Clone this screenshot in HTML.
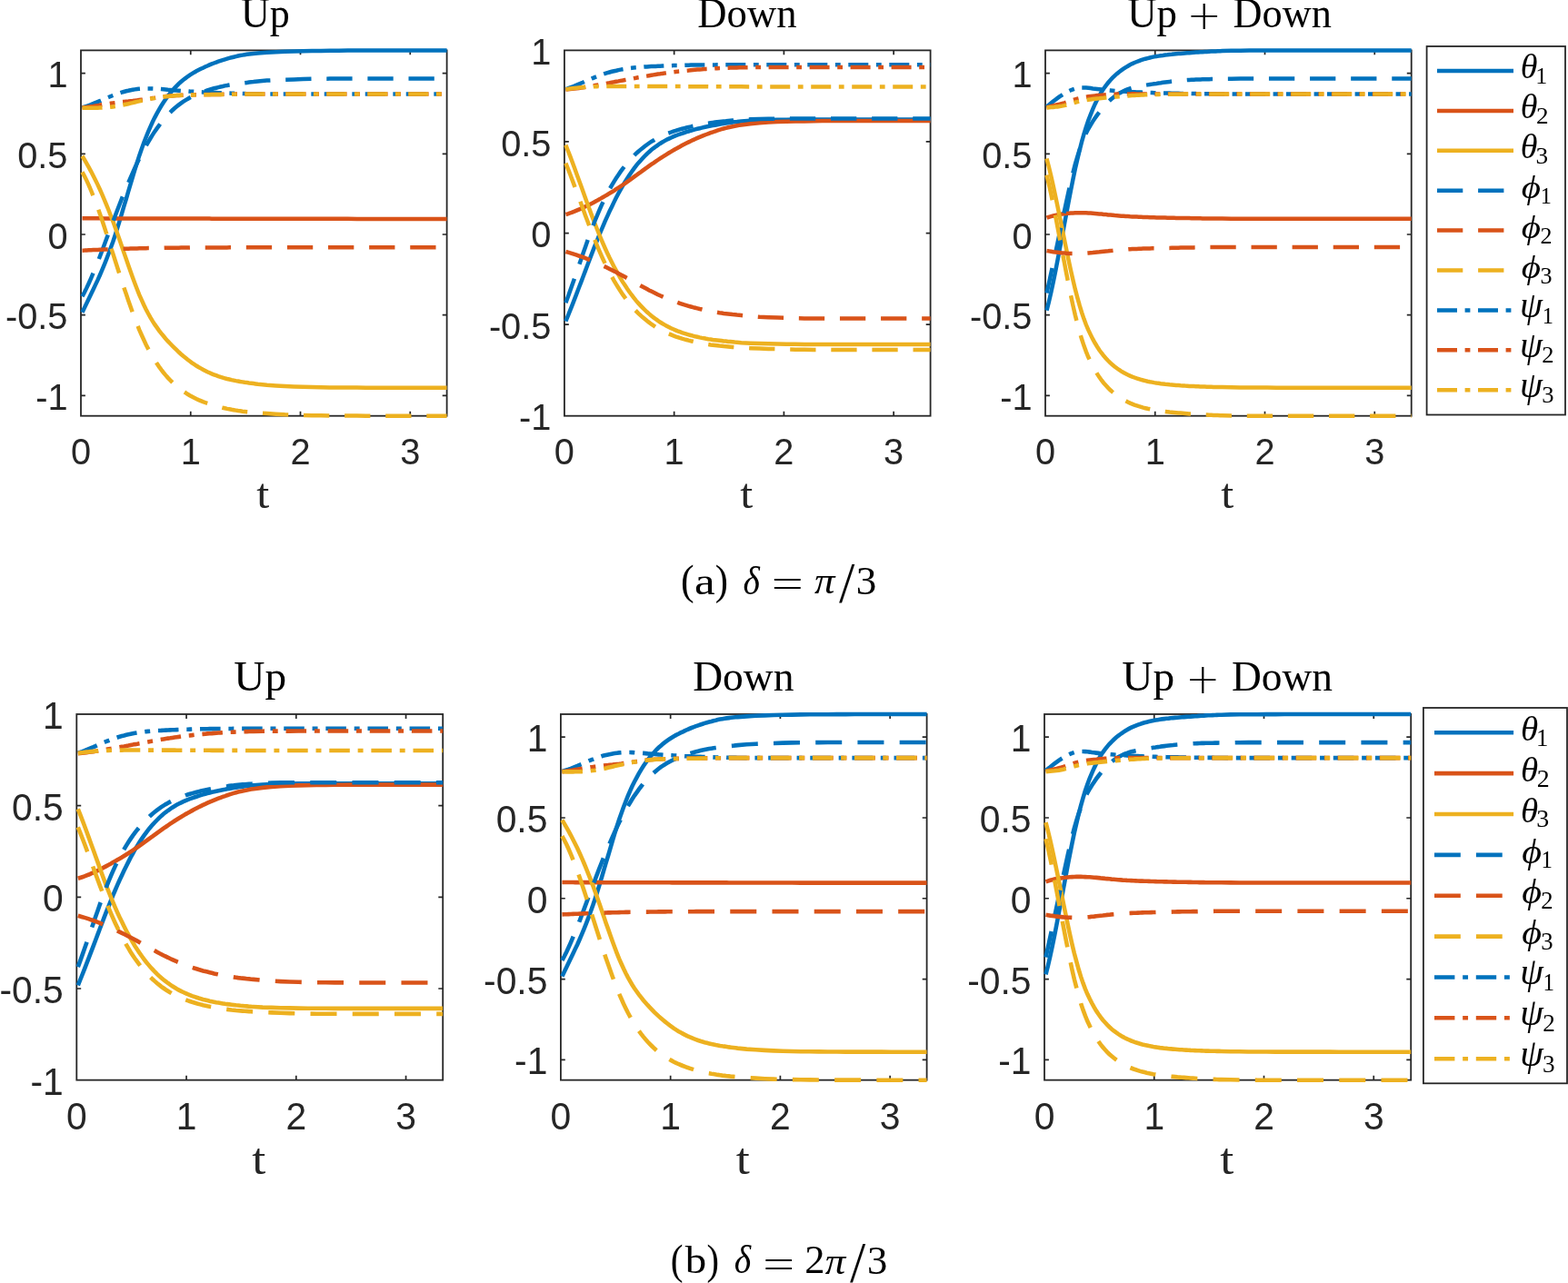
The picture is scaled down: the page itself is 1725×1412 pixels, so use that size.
<!DOCTYPE html>
<html lang="en"><head><meta charset="utf-8"><title>Figure: Up / Down / Up + Down dynamics</title>
<style>html,body{margin:0;padding:0;background:#fff}body{width:1725px;height:1412px;overflow:hidden}svg{display:block}</style></head>
<body>
<svg width="1725" height="1412" viewBox="0 0 1725 1412">
<rect width="1725" height="1412" fill="#fff"/>
<g id="a1">
<rect x="89.00" y="55.40" width="402.60" height="402.30" fill="#fff" stroke="#262626" stroke-width="1.8"/>
<path d="M209.75 457.70v-4.90 M209.75 55.40v4.90 M330.50 457.70v-4.90 M330.50 55.40v4.90 M451.25 457.70v-4.90 M451.25 55.40v4.90 M89.00 435.40h4.90 M491.60 435.40h-4.90 M89.00 346.70h4.90 M491.60 346.70h-4.90 M89.00 258.00h4.90 M491.60 258.00h-4.90 M89.00 169.30h4.90 M491.60 169.30h-4.90 M89.00 80.60h4.90 M491.60 80.60h-4.90" stroke="#262626" stroke-width="1.7" fill="none"/>
<clipPath id="cA1"><rect x="88.00" y="51.40" width="404.35" height="410.30"/></clipPath>
<g clip-path="url(#cA1)">
<path d="M90.5 343.7L92.9 338.7L95.3 333.8L97.7 328.8L100.1 323.8L102.5 318.8L104.9 313.6L107.4 308.4L109.8 303.0L112.2 297.4L114.6 291.6L117.0 285.6L119.4 279.3L121.8 272.8L124.3 265.9L126.7 258.7L129.1 251.1L131.5 243.3L133.9 235.3L136.3 227.2L138.8 219.0L141.2 210.7L143.6 202.6L146.0 194.5L148.4 186.5L150.8 178.8L153.2 171.4L155.7 164.3L158.1 157.6L160.5 151.3L162.9 145.4L165.3 139.8L167.7 134.5L170.1 129.6L172.6 124.9L175.0 120.6L177.4 116.5L179.8 112.7L182.2 109.2L184.6 105.8L187.1 102.7L189.5 99.8L191.9 97.1L194.3 94.6L196.7 92.2L199.1 90.0L201.5 88.0L204.0 86.1L206.4 84.3L208.8 82.7L211.2 81.2L213.6 79.7L216.0 78.3L218.4 77.1L220.9 75.8L223.3 74.7L225.7 73.5L228.1 72.5L230.5 71.4L232.9 70.4L235.3 69.5L237.8 68.6L240.2 67.7L242.6 66.9L245.0 66.1L247.4 65.4L249.8 64.6L252.3 63.9L254.7 63.3L257.1 62.7L259.5 62.1L261.9 61.5L264.3 61.0L266.7 60.6L269.2 60.2L271.6 59.8L274.0 59.5L276.4 59.2L278.8 58.9L281.2 58.7L283.6 58.5L293.6 57.8L303.5 57.3L313.4 56.8L323.3 56.4L333.2 56.2L343.1 56.0L353.0 55.9L362.9 55.7L372.8 55.7L382.7 55.6L392.6 55.5L402.5 55.5L412.4 55.5L422.3 55.4L432.2 55.4L442.1 55.4L452.0 55.4L461.9 55.4L471.8 55.4L481.7 55.4L491.6 55.4" fill="none" stroke="#0072BD" stroke-width="4.50"/>
<path d="M90.5 240.3L92.9 240.3L95.3 240.3L97.7 240.3L100.1 240.3L102.5 240.3L104.9 240.3L107.4 240.3L109.8 240.3L112.2 240.3L114.6 240.4L117.0 240.4L119.4 240.4L121.8 240.4L124.3 240.4L126.7 240.4L129.1 240.4L131.5 240.4L133.9 240.4L136.3 240.4L138.8 240.4L141.2 240.4L143.6 240.5L146.0 240.5L148.4 240.5L150.8 240.5L153.2 240.5L155.7 240.5L158.1 240.5L160.5 240.5L162.9 240.5L165.3 240.5L167.7 240.5L170.1 240.5L172.6 240.5L175.0 240.5L177.4 240.6L179.8 240.6L182.2 240.6L184.6 240.6L187.1 240.6L189.5 240.6L191.9 240.6L194.3 240.6L196.7 240.6L199.1 240.6L201.5 240.6L204.0 240.6L206.4 240.6L208.8 240.6L211.2 240.6L213.6 240.6L216.0 240.6L218.4 240.6L220.9 240.6L223.3 240.6L225.7 240.6L228.1 240.6L230.5 240.6L232.9 240.7L235.3 240.7L237.8 240.7L240.2 240.7L242.6 240.7L245.0 240.7L247.4 240.7L249.8 240.7L252.3 240.7L254.7 240.7L257.1 240.7L259.5 240.7L261.9 240.7L264.3 240.7L266.7 240.7L269.2 240.7L271.6 240.7L274.0 240.7L276.4 240.7L278.8 240.7L281.2 240.7L283.6 240.7L293.6 240.7L303.5 240.8L313.4 240.8L323.3 240.8L333.2 240.8L343.1 240.8L353.0 240.8L362.9 240.8L372.8 240.8L382.7 240.8L392.6 240.9L402.5 240.9L412.4 240.9L422.3 240.9L432.2 240.9L442.1 240.9L452.0 240.9L461.9 240.9L471.8 240.9L481.7 240.9L491.6 240.9" fill="none" stroke="#D95319" stroke-width="4.50"/>
<path d="M90.5 171.8L92.9 175.7L95.3 179.9L97.7 184.2L100.1 188.6L102.5 193.3L104.9 198.1L107.4 203.1L109.8 208.3L112.2 213.7L114.6 219.3L117.0 225.1L119.4 231.0L121.8 237.2L124.3 243.6L126.7 250.2L129.1 256.9L131.5 263.8L133.9 270.8L136.3 277.9L138.8 284.9L141.2 291.9L143.6 298.7L146.0 305.5L148.4 312.0L150.8 318.3L153.2 324.3L155.7 329.9L158.1 335.2L160.5 340.2L162.9 344.8L165.3 349.1L167.7 353.1L170.1 356.9L172.6 360.4L175.0 363.8L177.4 366.9L179.8 369.8L182.2 372.7L184.6 375.4L187.1 378.0L189.5 380.5L191.9 382.9L194.3 385.2L196.7 387.5L199.1 389.7L201.5 391.8L204.0 393.8L206.4 395.7L208.8 397.5L211.2 399.3L213.6 400.9L216.0 402.5L218.4 404.0L220.9 405.4L223.3 406.8L225.7 408.0L228.1 409.2L230.5 410.3L232.9 411.4L235.3 412.3L237.8 413.2L240.2 414.1L242.6 414.9L245.0 415.6L247.4 416.3L249.8 417.0L252.3 417.5L254.7 418.1L257.1 418.6L259.5 419.1L261.9 419.5L264.3 420.0L266.7 420.4L269.2 420.8L271.6 421.1L274.0 421.5L276.4 421.8L278.8 422.1L281.2 422.4L283.6 422.7L293.6 423.7L303.5 424.4L313.4 425.0L323.3 425.5L333.2 425.8L343.1 426.1L353.0 426.3L362.9 426.4L372.8 426.5L382.7 426.6L392.6 426.6L402.5 426.7L412.4 426.7L422.3 426.7L432.2 426.7L442.1 426.8L452.0 426.8L461.9 426.8L471.8 426.8L481.7 426.8L491.6 426.8" fill="none" stroke="#EDB120" stroke-width="4.50"/>
<path d="M90.5 326.2L92.9 321.7L95.3 316.9L97.7 311.7L100.1 306.3L102.5 300.6L104.9 294.8L107.4 288.7L109.8 282.5L112.2 276.2L114.6 269.8L117.0 263.3L119.4 256.8L121.8 250.3L124.3 243.9L126.7 237.5L129.1 231.2L131.5 225.0L133.9 218.9L136.3 212.8L138.8 207.0L141.2 201.2L143.6 195.6L146.0 190.1L148.4 184.8L150.8 179.6L153.2 174.6L155.7 169.8L158.1 165.2L160.5 160.8L162.9 156.6L165.3 152.5L167.7 148.6L170.1 144.9L172.6 141.4L175.0 138.1L177.4 134.9L179.8 131.9L182.2 129.1L184.6 126.4L187.1 123.9L189.5 121.5L191.9 119.3L194.3 117.3L196.7 115.4L199.1 113.6L201.5 111.9L204.0 110.4L206.4 108.9L208.8 107.6L211.2 106.3L213.6 105.2L216.0 104.1L218.4 103.0L220.9 102.1L223.3 101.2L225.7 100.3L228.1 99.5L230.5 98.7L232.9 98.0L235.3 97.3L237.8 96.7L240.2 96.1L242.6 95.5L245.0 95.0L247.4 94.4L249.8 94.0L252.3 93.5L254.7 93.1L257.1 92.7L259.5 92.4L261.9 92.0L264.3 91.7L266.7 91.4L269.2 91.2L271.6 90.9L274.0 90.6L276.4 90.3L278.8 90.1L281.2 89.8L283.6 89.5L293.6 88.6L303.5 88.1L313.4 87.7L323.3 87.4L333.2 87.0L343.1 86.8L353.0 86.7L362.9 86.6L372.8 86.5L382.7 86.4L392.6 86.4L402.5 86.4L412.4 86.4L422.3 86.4L432.2 86.4L442.1 86.4L452.0 86.4L461.9 86.4L471.8 86.4L481.7 86.4L491.6 86.4" fill="none" stroke="#0072BD" stroke-width="4.50" stroke-dasharray="28.30 16.80"/>
<path d="M90.5 275.7L92.9 275.6L95.3 275.4L97.7 275.3L100.1 275.2L102.5 275.1L104.9 275.0L107.4 274.9L109.8 274.8L112.2 274.7L114.6 274.6L117.0 274.5L119.4 274.4L121.8 274.3L124.3 274.2L126.7 274.1L129.1 274.1L131.5 274.0L133.9 273.9L136.3 273.8L138.8 273.7L141.2 273.7L143.6 273.6L146.0 273.5L148.4 273.5L150.8 273.4L153.2 273.3L155.7 273.3L158.1 273.2L160.5 273.2L162.9 273.1L165.3 273.1L167.7 273.0L170.1 273.0L172.6 273.0L175.0 272.9L177.4 272.9L179.8 272.9L182.2 272.8L184.6 272.8L187.1 272.8L189.5 272.7L191.9 272.7L194.3 272.7L196.7 272.7L199.1 272.6L201.5 272.6L204.0 272.6L206.4 272.6L208.8 272.6L211.2 272.5L213.6 272.5L216.0 272.5L218.4 272.5L220.9 272.5L223.3 272.4L225.7 272.4L228.1 272.4L230.5 272.4L232.9 272.4L235.3 272.4L237.8 272.4L240.2 272.4L242.6 272.4L245.0 272.4L247.4 272.4L249.8 272.4L252.3 272.3L254.7 272.3L257.1 272.3L259.5 272.3L261.9 272.3L264.3 272.3L266.7 272.3L269.2 272.3L271.6 272.3L274.0 272.3L276.4 272.3L278.8 272.3L281.2 272.3L283.6 272.3L293.6 272.3L303.5 272.3L313.4 272.3L323.3 272.3L333.2 272.3L343.1 272.3L353.0 272.3L362.9 272.3L372.8 272.3L382.7 272.3L392.6 272.3L402.5 272.3L412.4 272.3L422.3 272.3L432.2 272.3L442.1 272.3L452.0 272.3L461.9 272.3L471.8 272.3L481.7 272.3L491.6 272.3" fill="none" stroke="#D95319" stroke-width="4.50" stroke-dasharray="28.30 16.80"/>
<path d="M90.5 189.4L92.9 193.8L95.3 198.6L97.7 203.8L100.1 209.5L102.5 215.4L104.9 221.7L107.4 228.3L109.8 235.1L112.2 242.1L114.6 249.3L117.0 256.6L119.4 264.1L121.8 271.6L124.3 279.1L126.7 286.7L129.1 294.2L131.5 301.7L133.9 309.1L136.3 316.4L138.8 323.6L141.2 330.7L143.6 337.5L146.0 344.2L148.4 350.7L150.8 356.9L153.2 362.8L155.7 368.5L158.1 373.8L160.5 378.9L162.9 383.7L165.3 388.1L167.7 392.4L170.1 396.3L172.6 400.1L175.0 403.6L177.4 406.9L179.8 410.0L182.2 412.9L184.6 415.6L187.1 418.2L189.5 420.6L191.9 422.9L194.3 425.0L196.7 427.0L199.1 428.9L201.5 430.6L204.0 432.2L206.4 433.8L208.8 435.2L211.2 436.5L213.6 437.8L216.0 439.0L218.4 440.1L220.9 441.1L223.3 442.1L225.7 443.0L228.1 443.9L230.5 444.7L232.9 445.5L235.3 446.3L237.8 447.0L240.2 447.6L242.6 448.2L245.0 448.8L247.4 449.3L249.8 449.9L252.3 450.3L254.7 450.8L257.1 451.2L259.5 451.6L261.9 452.0L264.3 452.3L266.7 452.7L269.2 453.0L271.6 453.3L274.0 453.5L276.4 453.8L278.8 454.0L281.2 454.2L283.6 454.4L293.6 455.1L303.5 455.7L313.4 456.3L323.3 456.6L333.2 456.9L343.1 457.2L353.0 457.3L362.9 457.5L372.8 457.6L382.7 457.6L392.6 457.6L402.5 457.7L412.4 457.7L422.3 457.7L432.2 457.7L442.1 457.8L452.0 457.8L461.9 457.8L471.8 457.8L481.7 457.8L491.6 457.8" fill="none" stroke="#EDB120" stroke-width="4.50" stroke-dasharray="28.30 16.80"/>
<path d="M90.5 118.3L92.9 117.6L95.3 116.9L97.7 116.0L100.1 115.2L102.5 114.2L104.9 113.2L107.4 112.2L109.8 111.2L112.2 110.1L114.6 109.1L117.0 108.0L119.4 107.0L121.8 106.0L124.3 105.0L126.7 104.1L129.1 103.3L131.5 102.5L133.9 101.7L136.3 101.0L138.8 100.3L141.2 99.8L143.6 99.2L146.0 98.8L148.4 98.4L150.8 98.0L153.2 97.8L155.7 97.6L158.1 97.4L160.5 97.4L162.9 97.4L165.3 97.4L167.7 97.5L170.1 97.6L172.6 97.7L175.0 97.9L177.4 98.1L179.8 98.3L182.2 98.5L184.6 98.8L187.1 99.0L189.5 99.2L191.9 99.4L194.3 99.6L196.7 99.7L199.1 99.9L201.5 100.1L204.0 100.3L206.4 100.4L208.8 100.6L211.2 100.7L213.6 100.9L216.0 101.0L218.4 101.2L220.9 101.3L223.3 101.4L225.7 101.5L228.1 101.7L230.5 101.8L232.9 101.9L235.3 102.0L237.8 102.1L240.2 102.2L242.6 102.3L245.0 102.4L247.4 102.5L249.8 102.6L252.3 102.6L254.7 102.7L257.1 102.8L259.5 102.9L261.9 102.9L264.3 103.0L266.7 103.0L269.2 103.1L271.6 103.2L274.0 103.2L276.4 103.2L278.8 103.3L281.2 103.3L283.6 103.3L293.6 103.5L303.5 103.5L313.4 103.5L323.3 103.5L333.2 103.5L343.1 103.5L353.0 103.5L362.9 103.5L372.8 103.5L382.7 103.5L392.6 103.5L402.5 103.5L412.4 103.5L422.3 103.5L432.2 103.5L442.1 103.5L452.0 103.5L461.9 103.5L471.8 103.5L481.7 103.5L491.6 103.5" fill="none" stroke="#0072BD" stroke-width="4.50" stroke-dasharray="22.00 8.60 5.80 8.60"/>
<path d="M90.5 118.5L92.9 118.2L95.3 117.9L97.7 117.6L100.1 117.2L102.5 116.9L104.9 116.5L107.4 116.1L109.8 115.7L112.2 115.3L114.6 114.9L117.0 114.5L119.4 114.2L121.8 113.8L124.3 113.4L126.7 113.1L129.1 112.8L131.5 112.5L133.9 112.2L136.3 112.0L138.8 111.7L141.2 111.5L143.6 111.2L146.0 111.0L148.4 110.7L150.8 110.4L153.2 110.1L155.7 109.8L158.1 109.5L160.5 109.2L162.9 108.8L165.3 108.5L167.7 108.1L170.1 107.8L172.6 107.4L175.0 107.1L177.4 106.7L179.8 106.4L182.2 106.1L184.6 105.9L187.1 105.6L189.5 105.4L191.9 105.2L194.3 105.1L196.7 104.9L199.1 104.8L201.5 104.7L204.0 104.6L206.4 104.5L208.8 104.4L211.2 104.4L213.6 104.3L216.0 104.3L218.4 104.2L220.9 104.2L223.3 104.2L225.7 104.1L228.1 104.1L230.5 104.1L232.9 104.0L235.3 104.0L237.8 104.0L240.2 103.9L242.6 103.9L245.0 103.8L247.4 103.8L249.8 103.8L252.3 103.7L254.7 103.7L257.1 103.7L259.5 103.6L261.9 103.6L264.3 103.6L266.7 103.6L269.2 103.5L271.6 103.5L274.0 103.5L276.4 103.5L278.8 103.5L281.2 103.5L283.6 103.5L293.6 103.5L303.5 103.5L313.4 103.5L323.3 103.5L333.2 103.5L343.1 103.5L353.0 103.5L362.9 103.5L372.8 103.5L382.7 103.5L392.6 103.5L402.5 103.5L412.4 103.5L422.3 103.5L432.2 103.5L442.1 103.5L452.0 103.5L461.9 103.5L471.8 103.5L481.7 103.5L491.6 103.5" fill="none" stroke="#D95319" stroke-width="4.50" stroke-dasharray="22.00 8.60 5.80 8.60"/>
<path d="M90.5 118.7L92.9 118.7L95.3 118.7L97.7 118.7L100.1 118.7L102.5 118.7L104.9 118.7L107.4 118.7L109.8 118.6L112.2 118.5L114.6 118.3L117.0 118.2L119.4 118.0L121.8 117.7L124.3 117.4L126.7 117.1L129.1 116.7L131.5 116.2L133.9 115.8L136.3 115.3L138.8 114.7L141.2 114.2L143.6 113.6L146.0 113.1L148.4 112.5L150.8 111.9L153.2 111.4L155.7 110.8L158.1 110.3L160.5 109.8L162.9 109.3L165.3 108.8L167.7 108.4L170.1 108.0L172.6 107.6L175.0 107.2L177.4 106.8L179.8 106.5L182.2 106.2L184.6 105.9L187.1 105.7L189.5 105.5L191.9 105.3L194.3 105.1L196.7 105.0L199.1 104.9L201.5 104.8L204.0 104.7L206.4 104.6L208.8 104.5L211.2 104.5L213.6 104.4L216.0 104.4L218.4 104.4L220.9 104.3L223.3 104.3L225.7 104.2L228.1 104.2L230.5 104.2L232.9 104.1L235.3 104.1L237.8 104.0L240.2 104.0L242.6 104.0L245.0 103.9L247.4 103.9L249.8 103.8L252.3 103.8L254.7 103.8L257.1 103.7L259.5 103.7L261.9 103.6L264.3 103.6L266.7 103.6L269.2 103.6L271.6 103.5L274.0 103.5L276.4 103.5L278.8 103.5L281.2 103.5L283.6 103.5L293.6 103.5L303.5 103.5L313.4 103.5L323.3 103.5L333.2 103.5L343.1 103.5L353.0 103.5L362.9 103.5L372.8 103.5L382.7 103.5L392.6 103.5L402.5 103.5L412.4 103.5L422.3 103.5L432.2 103.5L442.1 103.5L452.0 103.5L461.9 103.5L471.8 103.5L481.7 103.5L491.6 103.5" fill="none" stroke="#EDB120" stroke-width="4.50" stroke-dasharray="22.00 8.60 5.80 8.60"/>
</g>
<g font-family="'Liberation Sans', sans-serif" font-size="41.2" fill="#262626">
<text x="89.00" y="511.00" text-anchor="middle" textLength="22.11" lengthAdjust="spacingAndGlyphs">0</text>
<text x="209.75" y="511.00" text-anchor="middle" textLength="22.11" lengthAdjust="spacingAndGlyphs">1</text>
<text x="330.50" y="511.00" text-anchor="middle" textLength="22.11" lengthAdjust="spacingAndGlyphs">2</text>
<text x="451.25" y="511.00" text-anchor="middle" textLength="22.11" lengthAdjust="spacingAndGlyphs">3</text>
<text x="74.50" y="451.00" text-anchor="end" textLength="35.35" lengthAdjust="spacingAndGlyphs">-1</text>
<text x="74.50" y="362.30" text-anchor="end" textLength="68.51" lengthAdjust="spacingAndGlyphs">-0.5</text>
<text x="74.50" y="273.60" text-anchor="end" textLength="22.11" lengthAdjust="spacingAndGlyphs">0</text>
<text x="74.50" y="184.90" text-anchor="end" textLength="55.27" lengthAdjust="spacingAndGlyphs">0.5</text>
<text x="74.50" y="96.20" text-anchor="end" textLength="22.11" lengthAdjust="spacingAndGlyphs">1</text>
</g>
</g>
<g id="a2">
<rect x="620.90" y="55.40" width="402.70" height="402.30" fill="#fff" stroke="#262626" stroke-width="1.8"/>
<path d="M741.65 457.70v-4.90 M741.65 55.40v4.90 M862.40 457.70v-4.90 M862.40 55.40v4.90 M983.15 457.70v-4.90 M983.15 55.40v4.90 M620.90 357.12h4.90 M1023.60 357.12h-4.90 M620.90 256.55h4.90 M1023.60 256.55h-4.90 M620.90 155.97h4.90 M1023.60 155.97h-4.90" stroke="#262626" stroke-width="1.7" fill="none"/>
<clipPath id="cA2"><rect x="619.90" y="51.40" width="404.45" height="410.30"/></clipPath>
<g clip-path="url(#cA2)">
<path d="M622.4 353.5L624.8 347.7L627.2 341.7L629.6 335.6L632.0 329.4L634.4 323.1L636.8 316.8L639.3 310.4L641.7 304.0L644.1 297.6L646.5 291.2L648.9 284.9L651.3 278.6L653.7 272.4L656.2 266.3L658.6 260.3L661.0 254.5L663.4 248.8L665.8 243.2L668.2 237.8L670.6 232.5L673.1 227.4L675.5 222.4L677.9 217.6L680.3 213.0L682.7 208.6L685.1 204.3L687.6 200.3L690.0 196.4L692.4 192.7L694.8 189.2L697.2 185.9L699.6 182.7L702.0 179.7L704.5 176.9L706.9 174.3L709.3 171.8L711.7 169.4L714.1 167.2L716.5 165.1L719.0 163.1L721.4 161.3L723.8 159.6L726.2 158.0L728.6 156.5L731.0 155.1L733.4 153.8L735.9 152.6L738.3 151.5L740.7 150.4L743.1 149.4L745.5 148.5L747.9 147.6L750.3 146.8L752.8 146.0L755.2 145.2L757.6 144.5L760.0 143.7L762.4 143.1L764.8 142.4L767.2 141.8L769.7 141.2L772.1 140.6L774.5 140.0L776.9 139.5L779.3 139.0L781.7 138.6L784.2 138.1L786.6 137.7L789.0 137.3L791.4 136.9L793.8 136.4L796.2 136.0L798.6 135.6L801.1 135.3L803.5 134.9L805.9 134.6L808.3 134.3L810.7 134.1L813.1 133.8L815.5 133.6L825.5 132.8L835.4 132.3L845.3 132.0L855.2 131.8L865.1 131.7L875.0 131.6L884.9 131.6L894.8 131.5L904.7 131.5L914.6 131.5L924.5 131.5L934.4 131.5L944.3 131.5L954.2 131.5L964.2 131.5L974.1 131.5L984.0 131.5L993.9 131.5L1003.8 131.5L1013.7 131.5L1023.6 131.5" fill="none" stroke="#0072BD" stroke-width="4.50"/>
<path d="M622.4 236.0L624.8 235.3L627.2 234.5L629.6 233.6L632.0 232.7L634.4 231.7L636.8 230.7L639.3 229.6L641.7 228.5L644.1 227.3L646.5 226.1L648.9 224.9L651.3 223.7L653.7 222.4L656.2 221.1L658.6 219.7L661.0 218.4L663.4 217.0L665.8 215.6L668.2 214.2L670.6 212.7L673.1 211.3L675.5 209.8L677.9 208.2L680.3 206.7L682.7 205.1L685.1 203.5L687.6 201.8L690.0 200.1L692.4 198.4L694.8 196.7L697.2 194.9L699.6 193.2L702.0 191.4L704.5 189.7L706.9 187.9L709.3 186.1L711.7 184.4L714.1 182.6L716.5 180.9L719.0 179.3L721.4 177.6L723.8 176.0L726.2 174.4L728.6 172.8L731.0 171.3L733.4 169.8L735.9 168.3L738.3 166.9L740.7 165.4L743.1 164.1L745.5 162.7L747.9 161.4L750.3 160.1L752.8 158.8L755.2 157.6L757.6 156.4L760.0 155.3L762.4 154.1L764.8 153.0L767.2 151.9L769.7 150.9L772.1 149.9L774.5 148.9L776.9 148.0L779.3 147.1L781.7 146.2L784.2 145.4L786.6 144.5L789.0 143.7L791.4 142.9L793.8 142.2L796.2 141.5L798.6 140.9L801.1 140.3L803.5 139.7L805.9 139.2L808.3 138.8L810.7 138.3L813.1 137.9L815.5 137.5L825.5 136.2L835.4 135.2L845.3 134.6L855.2 134.1L865.1 133.7L875.0 133.5L884.9 133.4L894.8 133.2L904.7 133.1L914.6 133.1L924.5 133.0L934.4 132.9L944.3 132.9L954.2 132.9L964.2 132.9L974.1 132.9L984.0 132.9L993.9 132.9L1003.8 132.9L1013.7 132.9L1023.6 132.9" fill="none" stroke="#D95319" stroke-width="4.50"/>
<path d="M622.4 159.6L624.8 165.7L627.2 171.9L629.6 178.3L632.0 184.8L634.4 191.4L636.8 198.0L639.3 204.8L641.7 211.5L644.1 218.2L646.5 224.9L648.9 231.4L651.3 237.9L653.7 244.3L656.2 250.5L658.6 256.5L661.0 262.4L663.4 268.0L665.8 273.5L668.2 278.7L670.6 283.8L673.1 288.7L675.5 293.4L677.9 297.9L680.3 302.2L682.7 306.4L685.1 310.4L687.6 314.1L690.0 317.8L692.4 321.2L694.8 324.5L697.2 327.6L699.6 330.6L702.0 333.4L704.5 336.1L706.9 338.6L709.3 341.0L711.7 343.3L714.1 345.4L716.5 347.4L719.0 349.4L721.4 351.2L723.8 352.9L726.2 354.5L728.6 356.0L731.0 357.4L733.4 358.7L735.9 360.0L738.3 361.2L740.7 362.3L743.1 363.3L745.5 364.3L747.9 365.2L750.3 366.1L752.8 366.9L755.2 367.6L757.6 368.3L760.0 369.0L762.4 369.7L764.8 370.3L767.2 370.8L769.7 371.4L772.1 371.9L774.5 372.3L776.9 372.8L779.3 373.2L781.7 373.5L784.2 373.9L786.6 374.2L789.0 374.5L791.4 374.8L793.8 375.1L796.2 375.4L798.6 375.6L801.1 375.9L803.5 376.1L805.9 376.3L808.3 376.6L810.7 376.8L813.1 377.0L815.5 377.2L825.5 377.7L835.4 378.0L845.3 378.3L855.2 378.5L865.1 378.7L875.0 378.8L884.9 378.9L894.8 378.9L904.7 379.0L914.6 379.0L924.5 379.0L934.4 379.0L944.3 379.0L954.2 379.0L964.2 379.0L974.1 379.0L984.0 379.0L993.9 379.0L1003.8 379.0L1013.7 379.0L1023.6 379.0" fill="none" stroke="#EDB120" stroke-width="4.50"/>
<path d="M622.4 333.3L624.8 326.8L627.2 320.1L629.6 313.3L632.0 306.4L634.4 299.4L636.8 292.4L639.3 285.3L641.7 278.3L644.1 271.4L646.5 264.6L648.9 257.9L651.3 251.3L653.7 245.0L656.2 239.0L658.6 233.2L661.0 227.6L663.4 222.4L665.8 217.4L668.2 212.7L670.6 208.2L673.1 203.9L675.5 199.8L677.9 196.0L680.3 192.4L682.7 188.9L685.1 185.6L687.6 182.5L690.0 179.6L692.4 176.8L694.8 174.1L697.2 171.6L699.6 169.2L702.0 167.0L704.5 164.9L706.9 162.9L709.3 161.0L711.7 159.2L714.1 157.5L716.5 155.9L719.0 154.5L721.4 153.1L723.8 151.8L726.2 150.5L728.6 149.4L731.0 148.3L733.4 147.3L735.9 146.4L738.3 145.5L740.7 144.6L743.1 143.9L745.5 143.1L747.9 142.4L750.3 141.7L752.8 141.1L755.2 140.5L757.6 139.9L760.0 139.4L762.4 138.8L764.8 138.3L767.2 137.8L769.7 137.3L772.1 136.9L774.5 136.5L776.9 136.0L779.3 135.7L781.7 135.3L784.2 134.9L786.6 134.6L789.0 134.3L791.4 134.0L793.8 133.7L796.2 133.4L798.6 133.2L801.1 132.9L803.5 132.7L805.9 132.5L808.3 132.3L810.7 132.2L813.1 132.0L815.5 131.8L825.5 131.3L835.4 131.0L845.3 130.7L855.2 130.6L865.1 130.6L875.0 130.5L884.9 130.5L894.8 130.5L904.7 130.5L914.6 130.5L924.5 130.5L934.4 130.5L944.3 130.5L954.2 130.5L964.2 130.5L974.1 130.5L984.0 130.5L993.9 130.5L1003.8 130.5L1013.7 130.5L1023.6 130.5" fill="none" stroke="#0072BD" stroke-width="4.50" stroke-dasharray="28.30 16.80"/>
<path d="M622.4 277.0L624.8 277.7L627.2 278.4L629.6 279.1L632.0 279.8L634.4 280.6L636.8 281.5L639.3 282.3L641.7 283.2L644.1 284.2L646.5 285.1L648.9 286.1L651.3 287.1L653.7 288.1L656.2 289.2L658.6 290.3L661.0 291.4L663.4 292.5L665.8 293.6L668.2 294.8L670.6 296.0L673.1 297.2L675.5 298.4L677.9 299.6L680.3 300.9L682.7 302.2L685.1 303.5L687.6 304.8L690.0 306.1L692.4 307.4L694.8 308.8L697.2 310.1L699.6 311.5L702.0 312.8L704.5 314.2L706.9 315.5L709.3 316.8L711.7 318.1L714.1 319.4L716.5 320.6L719.0 321.8L721.4 323.0L723.8 324.2L726.2 325.3L728.6 326.3L731.0 327.4L733.4 328.4L735.9 329.4L738.3 330.3L740.7 331.2L743.1 332.1L745.5 333.0L747.9 333.8L750.3 334.6L752.8 335.4L755.2 336.1L757.6 336.8L760.0 337.5L762.4 338.2L764.8 338.8L767.2 339.4L769.7 340.0L772.1 340.5L774.5 341.1L776.9 341.6L779.3 342.0L781.7 342.5L784.2 343.0L786.6 343.4L789.0 343.8L791.4 344.2L793.8 344.5L796.2 344.9L798.6 345.2L801.1 345.5L803.5 345.8L805.9 346.1L808.3 346.3L810.7 346.6L813.1 346.8L815.5 347.0L825.5 348.0L835.4 348.8L845.3 349.2L855.2 349.6L865.1 349.9L875.0 350.2L884.9 350.4L894.8 350.5L904.7 350.5L914.6 350.6L924.5 350.6L934.4 350.6L944.3 350.6L954.2 350.6L964.2 350.6L974.1 350.6L984.0 350.6L993.9 350.6L1003.8 350.6L1013.7 350.6L1023.6 350.6" fill="none" stroke="#D95319" stroke-width="4.50" stroke-dasharray="28.30 16.80"/>
<path d="M622.4 179.6L624.8 185.6L627.2 191.8L629.6 198.1L632.0 204.6L634.4 211.1L636.8 217.6L639.3 224.2L641.7 230.8L644.1 237.4L646.5 243.8L648.9 250.2L651.3 256.5L653.7 262.6L656.2 268.6L658.6 274.3L661.0 279.9L663.4 285.2L665.8 290.3L668.2 295.2L670.6 299.9L673.1 304.4L675.5 308.8L677.9 312.9L680.3 316.8L682.7 320.6L685.1 324.2L687.6 327.6L690.0 330.8L692.4 333.9L694.8 336.8L697.2 339.5L699.6 342.1L702.0 344.6L704.5 346.9L706.9 349.1L709.3 351.1L711.7 353.1L714.1 354.9L716.5 356.7L719.0 358.3L721.4 359.9L723.8 361.3L726.2 362.7L728.6 364.0L731.0 365.2L733.4 366.4L735.9 367.4L738.3 368.4L740.7 369.4L743.1 370.3L745.5 371.1L747.9 371.9L750.3 372.7L752.8 373.4L755.2 374.0L757.6 374.7L760.0 375.3L762.4 375.8L764.8 376.4L767.2 376.9L769.7 377.4L772.1 377.8L774.5 378.2L776.9 378.6L779.3 379.0L781.7 379.4L784.2 379.7L786.6 380.0L789.0 380.3L791.4 380.6L793.8 380.8L796.2 381.1L798.6 381.3L801.1 381.5L803.5 381.7L805.9 381.9L808.3 382.1L810.7 382.2L813.1 382.4L815.5 382.6L825.5 383.2L835.4 383.6L845.3 383.9L855.2 384.2L865.1 384.5L875.0 384.7L884.9 384.8L894.8 384.9L904.7 384.9L914.6 385.0L924.5 385.0L934.4 385.0L944.3 385.0L954.2 385.0L964.2 385.0L974.1 385.0L984.0 385.0L993.9 385.0L1003.8 385.0L1013.7 385.0L1023.6 385.0" fill="none" stroke="#EDB120" stroke-width="4.50" stroke-dasharray="28.30 16.80"/>
<path d="M622.4 98.1L624.8 97.3L627.2 96.4L629.6 95.5L632.0 94.6L634.4 93.6L636.8 92.6L639.3 91.5L641.7 90.5L644.1 89.4L646.5 88.4L648.9 87.3L651.3 86.3L653.7 85.3L656.2 84.3L658.6 83.4L661.0 82.5L663.4 81.7L665.8 80.9L668.2 80.2L670.6 79.5L673.1 78.8L675.5 78.2L677.9 77.7L680.3 77.1L682.7 76.6L685.1 76.2L687.6 75.8L690.0 75.4L692.4 75.1L694.8 74.8L697.2 74.5L699.6 74.3L702.0 74.1L704.5 73.9L706.9 73.7L709.3 73.5L711.7 73.4L714.1 73.2L716.5 73.1L719.0 73.0L721.4 72.9L723.8 72.8L726.2 72.7L728.6 72.6L731.0 72.5L733.4 72.4L735.9 72.3L738.3 72.2L740.7 72.1L743.1 72.0L745.5 72.0L747.9 71.9L750.3 71.8L752.8 71.8L755.2 71.7L757.6 71.7L760.0 71.6L762.4 71.6L764.8 71.6L767.2 71.5L769.7 71.5L772.1 71.5L774.5 71.4L776.9 71.4L779.3 71.4L781.7 71.4L784.2 71.4L786.6 71.4L789.0 71.3L791.4 71.3L793.8 71.3L796.2 71.3L798.6 71.3L801.1 71.3L803.5 71.3L805.9 71.3L808.3 71.3L810.7 71.3L813.1 71.3L815.5 71.3L825.5 71.2L835.4 71.2L845.3 71.2L855.2 71.2L865.1 71.2L875.0 71.2L884.9 71.2L894.8 71.2L904.7 71.2L914.6 71.2L924.5 71.2L934.4 71.2L944.3 71.2L954.2 71.2L964.2 71.2L974.1 71.2L984.0 71.2L993.9 71.2L1003.8 71.2L1013.7 71.2L1023.6 71.2" fill="none" stroke="#0072BD" stroke-width="4.50" stroke-dasharray="22.00 8.60 5.80 8.60"/>
<path d="M622.4 98.5L624.8 98.3L627.2 98.0L629.6 97.8L632.0 97.5L634.4 97.2L636.8 96.9L639.3 96.5L641.7 96.2L644.1 95.8L646.5 95.4L648.9 95.0L651.3 94.6L653.7 94.2L656.2 93.8L658.6 93.4L661.0 92.9L663.4 92.5L665.8 92.1L668.2 91.6L670.6 91.2L673.1 90.7L675.5 90.3L677.9 89.8L680.3 89.4L682.7 88.9L685.1 88.5L687.6 88.0L690.0 87.6L692.4 87.1L694.8 86.7L697.2 86.2L699.6 85.8L702.0 85.3L704.5 84.9L706.9 84.4L709.3 84.0L711.7 83.6L714.1 83.2L716.5 82.8L719.0 82.4L721.4 82.0L723.8 81.6L726.2 81.3L728.6 80.9L731.0 80.6L733.4 80.2L735.9 79.9L738.3 79.6L740.7 79.3L743.1 79.0L745.5 78.7L747.9 78.5L750.3 78.2L752.8 78.0L755.2 77.7L757.6 77.5L760.0 77.2L762.4 77.0L764.8 76.8L767.2 76.6L769.7 76.4L772.1 76.3L774.5 76.1L776.9 75.9L779.3 75.8L781.7 75.6L784.2 75.5L786.6 75.3L789.0 75.2L791.4 75.1L793.8 75.0L796.2 74.9L798.6 74.8L801.1 74.7L803.5 74.6L805.9 74.5L808.3 74.4L810.7 74.4L813.1 74.3L815.5 74.3L825.5 74.1L835.4 74.0L845.3 74.0L855.2 73.9L865.1 73.9L875.0 73.9L884.9 73.9L894.8 73.9L904.7 73.9L914.6 73.9L924.5 73.9L934.4 73.9L944.3 73.9L954.2 73.9L964.2 73.9L974.1 73.9L984.0 73.9L993.9 73.9L1003.8 73.9L1013.7 73.9L1023.6 73.9" fill="none" stroke="#D95319" stroke-width="4.50" stroke-dasharray="22.00 8.60 5.80 8.60"/>
<path d="M622.4 98.3L624.8 98.0L627.2 97.6L629.6 97.3L632.0 97.0L634.4 96.7L636.8 96.5L639.3 96.3L641.7 96.0L644.1 95.9L646.5 95.7L648.9 95.6L651.3 95.4L653.7 95.3L656.2 95.2L658.6 95.1L661.0 95.1L663.4 95.0L665.8 95.0L668.2 94.9L670.6 94.9L673.1 94.9L675.5 94.9L677.9 94.9L680.3 94.9L682.7 94.9L685.1 94.9L687.6 94.9L690.0 94.9L692.4 94.9L694.8 94.9L697.2 94.9L699.6 94.9L702.0 94.9L704.5 94.9L706.9 94.9L709.3 94.9L711.7 94.9L714.1 95.0L716.5 95.0L719.0 95.0L721.4 95.0L723.8 95.0L726.2 95.0L728.6 95.0L731.0 95.0L733.4 95.0L735.9 95.0L738.3 95.1L740.7 95.1L743.1 95.1L745.5 95.1L747.9 95.1L750.3 95.1L752.8 95.1L755.2 95.2L757.6 95.2L760.0 95.2L762.4 95.2L764.8 95.2L767.2 95.2L769.7 95.2L772.1 95.2L774.5 95.2L776.9 95.2L779.3 95.3L781.7 95.3L784.2 95.3L786.6 95.3L789.0 95.3L791.4 95.3L793.8 95.3L796.2 95.3L798.6 95.3L801.1 95.3L803.5 95.3L805.9 95.3L808.3 95.3L810.7 95.3L813.1 95.3L815.5 95.3L825.5 95.4L835.4 95.4L845.3 95.4L855.2 95.4L865.1 95.4L875.0 95.4L884.9 95.4L894.8 95.4L904.7 95.4L914.6 95.4L924.5 95.4L934.4 95.4L944.3 95.4L954.2 95.4L964.2 95.4L974.1 95.4L984.0 95.4L993.9 95.4L1003.8 95.4L1013.7 95.4L1023.6 95.4" fill="none" stroke="#EDB120" stroke-width="4.50" stroke-dasharray="22.00 8.60 5.80 8.60"/>
</g>
<g font-family="'Liberation Sans', sans-serif" font-size="41.2" fill="#262626">
<text x="620.90" y="511.00" text-anchor="middle" textLength="22.11" lengthAdjust="spacingAndGlyphs">0</text>
<text x="741.65" y="511.00" text-anchor="middle" textLength="22.11" lengthAdjust="spacingAndGlyphs">1</text>
<text x="862.40" y="511.00" text-anchor="middle" textLength="22.11" lengthAdjust="spacingAndGlyphs">2</text>
<text x="983.15" y="511.00" text-anchor="middle" textLength="22.11" lengthAdjust="spacingAndGlyphs">3</text>
<text x="606.40" y="473.30" text-anchor="end" textLength="35.35" lengthAdjust="spacingAndGlyphs">-1</text>
<text x="606.40" y="372.73" text-anchor="end" textLength="68.51" lengthAdjust="spacingAndGlyphs">-0.5</text>
<text x="606.40" y="272.15" text-anchor="end" textLength="22.11" lengthAdjust="spacingAndGlyphs">0</text>
<text x="606.40" y="171.57" text-anchor="end" textLength="55.27" lengthAdjust="spacingAndGlyphs">0.5</text>
<text x="606.40" y="71.00" text-anchor="end" textLength="22.11" lengthAdjust="spacingAndGlyphs">1</text>
</g>
</g>
<g id="a3">
<rect x="1150.00" y="55.40" width="402.70" height="402.30" fill="#fff" stroke="#262626" stroke-width="1.8"/>
<path d="M1270.75 457.70v-4.90 M1270.75 55.40v4.90 M1391.50 457.70v-4.90 M1391.50 55.40v4.90 M1512.25 457.70v-4.90 M1512.25 55.40v4.90 M1150.00 435.40h4.90 M1552.70 435.40h-4.90 M1150.00 346.70h4.90 M1552.70 346.70h-4.90 M1150.00 258.00h4.90 M1552.70 258.00h-4.90 M1150.00 169.30h4.90 M1552.70 169.30h-4.90 M1150.00 80.60h4.90 M1552.70 80.60h-4.90" stroke="#262626" stroke-width="1.7" fill="none"/>
<clipPath id="cA3"><rect x="1149.00" y="51.40" width="404.45" height="410.30"/></clipPath>
<g clip-path="url(#cA3)">
<path d="M1151.5 341.6L1153.9 332.1L1156.3 321.7L1158.7 310.5L1161.1 298.7L1163.5 286.3L1165.9 273.6L1168.4 260.7L1170.8 247.7L1173.2 234.8L1175.6 222.0L1178.0 209.6L1180.4 197.5L1182.8 186.0L1185.3 175.2L1187.7 165.2L1190.1 155.9L1192.5 147.4L1194.9 139.7L1197.3 132.6L1199.8 126.1L1202.2 120.1L1204.6 114.7L1207.0 109.8L1209.4 105.3L1211.8 101.2L1214.2 97.5L1216.7 94.1L1219.1 91.0L1221.5 88.2L1223.9 85.7L1226.3 83.4L1228.7 81.2L1231.1 79.2L1233.6 77.4L1236.0 75.7L1238.4 74.1L1240.8 72.7L1243.2 71.3L1245.6 70.1L1248.0 69.0L1250.5 68.0L1252.9 67.1L1255.3 66.2L1257.7 65.4L1260.1 64.7L1262.5 64.1L1265.0 63.5L1267.4 62.9L1269.8 62.4L1272.2 62.0L1274.6 61.6L1277.0 61.2L1279.4 60.9L1281.9 60.5L1284.3 60.3L1286.7 60.0L1289.1 59.8L1291.5 59.5L1293.9 59.3L1296.3 59.1L1298.8 58.9L1301.2 58.7L1303.6 58.5L1306.0 58.3L1308.4 58.2L1310.8 58.0L1313.3 57.8L1315.7 57.6L1318.1 57.5L1320.5 57.3L1322.9 57.2L1325.3 57.0L1327.7 56.9L1330.2 56.7L1332.6 56.6L1335.0 56.5L1337.4 56.4L1339.8 56.3L1342.2 56.2L1344.7 56.1L1354.6 55.8L1364.5 55.7L1374.4 55.6L1384.3 55.6L1394.2 55.5L1404.1 55.5L1414.0 55.4L1423.9 55.4L1433.8 55.4L1443.7 55.4L1453.6 55.4L1463.5 55.4L1473.4 55.4L1483.3 55.4L1493.3 55.4L1503.2 55.4L1513.1 55.4L1523.0 55.4L1532.9 55.4L1542.8 55.4L1552.7 55.4" fill="none" stroke="#0072BD" stroke-width="4.50"/>
<path d="M1151.5 239.7L1153.9 238.8L1156.3 238.1L1158.7 237.5L1161.1 236.9L1163.5 236.4L1165.9 236.0L1168.4 235.6L1170.8 235.3L1173.2 235.0L1175.6 234.8L1178.0 234.5L1180.4 234.4L1182.8 234.3L1185.3 234.2L1187.7 234.2L1190.1 234.2L1192.5 234.2L1194.9 234.3L1197.3 234.4L1199.8 234.6L1202.2 234.8L1204.6 235.0L1207.0 235.2L1209.4 235.4L1211.8 235.6L1214.2 235.9L1216.7 236.1L1219.1 236.4L1221.5 236.6L1223.9 236.8L1226.3 237.1L1228.7 237.3L1231.1 237.5L1233.6 237.7L1236.0 237.8L1238.4 238.0L1240.8 238.1L1243.2 238.3L1245.6 238.4L1248.0 238.5L1250.5 238.6L1252.9 238.7L1255.3 238.8L1257.7 238.9L1260.1 239.0L1262.5 239.1L1265.0 239.2L1267.4 239.2L1269.8 239.3L1272.2 239.4L1274.6 239.4L1277.0 239.5L1279.4 239.6L1281.9 239.6L1284.3 239.7L1286.7 239.7L1289.1 239.8L1291.5 239.8L1293.9 239.9L1296.3 239.9L1298.8 240.0L1301.2 240.0L1303.6 240.1L1306.0 240.1L1308.4 240.1L1310.8 240.2L1313.3 240.2L1315.7 240.3L1318.1 240.3L1320.5 240.3L1322.9 240.4L1325.3 240.4L1327.7 240.4L1330.2 240.5L1332.6 240.5L1335.0 240.5L1337.4 240.5L1339.8 240.6L1342.2 240.6L1344.7 240.6L1354.6 240.7L1364.5 240.8L1374.4 240.8L1384.3 240.8L1394.2 240.8L1404.1 240.8L1414.0 240.8L1423.9 240.8L1433.8 240.8L1443.7 240.8L1453.6 240.8L1463.5 240.8L1473.4 240.8L1483.3 240.8L1493.3 240.8L1503.2 240.8L1513.1 240.8L1523.0 240.8L1532.9 240.8L1542.8 240.8L1552.7 240.8" fill="none" stroke="#D95319" stroke-width="4.50"/>
<path d="M1151.5 174.5L1153.9 183.8L1156.3 193.8L1158.7 204.5L1161.1 215.7L1163.5 227.3L1165.9 239.1L1168.4 251.0L1170.8 262.9L1173.2 274.7L1175.6 286.2L1178.0 297.4L1180.4 308.1L1182.8 318.2L1185.3 327.6L1187.7 336.2L1190.1 344.0L1192.5 351.1L1194.9 357.5L1197.3 363.2L1199.8 368.4L1202.2 373.2L1204.6 377.5L1207.0 381.5L1209.4 385.2L1211.8 388.5L1214.2 391.6L1216.7 394.4L1219.1 397.0L1221.5 399.4L1223.9 401.5L1226.3 403.5L1228.7 405.3L1231.1 407.0L1233.6 408.6L1236.0 410.0L1238.4 411.3L1240.8 412.5L1243.2 413.6L1245.6 414.6L1248.0 415.5L1250.5 416.4L1252.9 417.1L1255.3 417.8L1257.7 418.5L1260.1 419.1L1262.5 419.7L1265.0 420.2L1267.4 420.6L1269.8 421.1L1272.2 421.5L1274.6 421.8L1277.0 422.2L1279.4 422.5L1281.9 422.8L1284.3 423.0L1286.7 423.3L1289.1 423.5L1291.5 423.7L1293.9 423.9L1296.3 424.1L1298.8 424.3L1301.2 424.4L1303.6 424.6L1306.0 424.7L1308.4 424.9L1310.8 425.0L1313.3 425.1L1315.7 425.2L1318.1 425.3L1320.5 425.4L1322.9 425.5L1325.3 425.6L1327.7 425.7L1330.2 425.8L1332.6 425.8L1335.0 425.9L1337.4 425.9L1339.8 426.0L1342.2 426.0L1344.7 426.1L1354.6 426.3L1364.5 426.5L1374.4 426.6L1384.3 426.6L1394.2 426.6L1404.1 426.7L1414.0 426.7L1423.9 426.7L1433.8 426.7L1443.7 426.7L1453.6 426.7L1463.5 426.8L1473.4 426.8L1483.3 426.8L1493.3 426.8L1503.2 426.8L1513.1 426.8L1523.0 426.8L1532.9 426.8L1542.8 426.8L1552.7 426.8" fill="none" stroke="#EDB120" stroke-width="4.50"/>
<path d="M1151.5 322.6L1153.9 311.8L1156.3 300.8L1158.7 289.7L1161.1 278.4L1163.5 267.1L1165.9 255.7L1168.4 244.2L1170.8 232.9L1173.2 221.7L1175.6 210.8L1178.0 200.2L1180.4 190.3L1182.8 180.9L1185.3 172.4L1187.7 164.7L1190.1 157.9L1192.5 151.9L1194.9 146.5L1197.3 141.8L1199.8 137.5L1202.2 133.6L1204.6 130.0L1207.0 126.6L1209.4 123.4L1211.8 120.3L1214.2 117.4L1216.7 114.8L1219.1 112.3L1221.5 110.0L1223.9 107.9L1226.3 106.0L1228.7 104.3L1231.1 102.7L1233.6 101.4L1236.0 100.2L1238.4 99.1L1240.8 98.2L1243.2 97.4L1245.6 96.7L1248.0 96.1L1250.5 95.5L1252.9 95.1L1255.3 94.6L1257.7 94.2L1260.1 93.8L1262.5 93.4L1265.0 93.0L1267.4 92.6L1269.8 92.2L1272.2 91.9L1274.6 91.5L1277.0 91.2L1279.4 90.8L1281.9 90.5L1284.3 90.2L1286.7 89.9L1289.1 89.6L1291.5 89.3L1293.9 89.1L1296.3 88.9L1298.8 88.7L1301.2 88.5L1303.6 88.3L1306.0 88.1L1308.4 88.0L1310.8 87.8L1313.3 87.7L1315.7 87.6L1318.1 87.5L1320.5 87.4L1322.9 87.3L1325.3 87.3L1327.7 87.2L1330.2 87.2L1332.6 87.1L1335.0 87.1L1337.4 87.0L1339.8 87.0L1342.2 86.9L1344.7 86.9L1354.6 86.8L1364.5 86.6L1374.4 86.5L1384.3 86.5L1394.2 86.5L1404.1 86.5L1414.0 86.5L1423.9 86.5L1433.8 86.5L1443.7 86.5L1453.6 86.5L1463.5 86.5L1473.4 86.5L1483.3 86.5L1493.3 86.5L1503.2 86.5L1513.1 86.5L1523.0 86.5L1532.9 86.5L1542.8 86.5L1552.7 86.5" fill="none" stroke="#0072BD" stroke-width="4.50" stroke-dasharray="28.30 16.80"/>
<path d="M1151.5 276.0L1153.9 276.4L1156.3 276.8L1158.7 277.2L1161.1 277.5L1163.5 277.8L1165.9 278.1L1168.4 278.4L1170.8 278.6L1173.2 278.8L1175.6 278.9L1178.0 279.1L1180.4 279.1L1182.8 279.2L1185.3 279.2L1187.7 279.1L1190.1 279.0L1192.5 278.9L1194.9 278.7L1197.3 278.5L1199.8 278.3L1202.2 278.1L1204.6 277.8L1207.0 277.5L1209.4 277.3L1211.8 277.0L1214.2 276.7L1216.7 276.4L1219.1 276.2L1221.5 275.9L1223.9 275.7L1226.3 275.4L1228.7 275.2L1231.1 275.0L1233.6 274.8L1236.0 274.6L1238.4 274.5L1240.8 274.4L1243.2 274.2L1245.6 274.1L1248.0 274.0L1250.5 273.9L1252.9 273.8L1255.3 273.7L1257.7 273.6L1260.1 273.6L1262.5 273.5L1265.0 273.4L1267.4 273.3L1269.8 273.3L1272.2 273.2L1274.6 273.1L1277.0 273.1L1279.4 273.0L1281.9 273.0L1284.3 272.9L1286.7 272.9L1289.1 272.8L1291.5 272.8L1293.9 272.7L1296.3 272.7L1298.8 272.6L1301.2 272.6L1303.6 272.5L1306.0 272.5L1308.4 272.4L1310.8 272.4L1313.3 272.4L1315.7 272.3L1318.1 272.3L1320.5 272.3L1322.9 272.2L1325.3 272.2L1327.7 272.2L1330.2 272.1L1332.6 272.1L1335.0 272.1L1337.4 272.1L1339.8 272.1L1342.2 272.1L1344.7 272.0L1354.6 272.0L1364.5 272.0L1374.4 271.9L1384.3 271.9L1394.2 271.9L1404.1 271.9L1414.0 271.9L1423.9 271.9L1433.8 271.9L1443.7 271.9L1453.6 271.9L1463.5 271.9L1473.4 271.9L1483.3 271.9L1493.3 271.9L1503.2 271.9L1513.1 271.9L1523.0 271.9L1532.9 271.9L1542.8 271.9L1552.7 271.9" fill="none" stroke="#D95319" stroke-width="4.50" stroke-dasharray="28.30 16.80"/>
<path d="M1151.5 192.6L1153.9 202.6L1156.3 213.5L1158.7 225.2L1161.1 237.4L1163.5 250.0L1165.9 262.8L1168.4 275.7L1170.8 288.4L1173.2 301.0L1175.6 313.2L1178.0 324.9L1180.4 336.1L1182.8 346.6L1185.3 356.4L1187.7 365.3L1190.1 373.3L1192.5 380.6L1194.9 387.1L1197.3 393.0L1199.8 398.2L1202.2 403.0L1204.6 407.4L1207.0 411.4L1209.4 415.1L1211.8 418.5L1214.2 421.5L1216.7 424.3L1219.1 426.9L1221.5 429.3L1223.9 431.4L1226.3 433.4L1228.7 435.2L1231.1 436.9L1233.6 438.5L1236.0 439.9L1238.4 441.2L1240.8 442.5L1243.2 443.6L1245.6 444.6L1248.0 445.6L1250.5 446.4L1252.9 447.2L1255.3 447.9L1257.7 448.6L1260.1 449.2L1262.5 449.8L1265.0 450.3L1267.4 450.8L1269.8 451.3L1272.2 451.7L1274.6 452.1L1277.0 452.4L1279.4 452.7L1281.9 453.0L1284.3 453.3L1286.7 453.6L1289.1 453.8L1291.5 454.0L1293.9 454.2L1296.3 454.4L1298.8 454.6L1301.2 454.8L1303.6 455.0L1306.0 455.2L1308.4 455.4L1310.8 455.5L1313.3 455.7L1315.7 455.9L1318.1 456.0L1320.5 456.2L1322.9 456.3L1325.3 456.5L1327.7 456.6L1330.2 456.7L1332.6 456.8L1335.0 456.9L1337.4 457.0L1339.8 457.1L1342.2 457.2L1344.7 457.2L1354.6 457.4L1364.5 457.6L1374.4 457.7L1384.3 457.7L1394.2 457.8L1404.1 457.8L1414.0 457.8L1423.9 457.8L1433.8 457.8L1443.7 457.8L1453.6 457.8L1463.5 457.8L1473.4 457.8L1483.3 457.8L1493.3 457.8L1503.2 457.8L1513.1 457.8L1523.0 457.8L1532.9 457.8L1542.8 457.8L1552.7 457.8" fill="none" stroke="#EDB120" stroke-width="4.50" stroke-dasharray="28.30 16.80"/>
<path d="M1151.5 117.5L1153.9 115.5L1156.3 113.5L1158.7 111.6L1161.1 109.7L1163.5 107.9L1165.9 106.2L1168.4 104.6L1170.8 103.0L1173.2 101.6L1175.6 100.4L1178.0 99.2L1180.4 98.3L1182.8 97.5L1185.3 96.9L1187.7 96.5L1190.1 96.4L1192.5 96.4L1194.9 96.5L1197.3 96.7L1199.8 97.0L1202.2 97.4L1204.6 97.7L1207.0 98.0L1209.4 98.3L1211.8 98.6L1214.2 98.9L1216.7 99.1L1219.1 99.3L1221.5 99.5L1223.9 99.7L1226.3 99.9L1228.7 100.1L1231.1 100.3L1233.6 100.4L1236.0 100.6L1238.4 100.7L1240.8 100.9L1243.2 101.0L1245.6 101.2L1248.0 101.3L1250.5 101.4L1252.9 101.5L1255.3 101.6L1257.7 101.7L1260.1 101.8L1262.5 101.9L1265.0 102.0L1267.4 102.1L1269.8 102.2L1272.2 102.3L1274.6 102.3L1277.0 102.4L1279.4 102.5L1281.9 102.5L1284.3 102.6L1286.7 102.6L1289.1 102.7L1291.5 102.7L1293.9 102.8L1296.3 102.8L1298.8 102.9L1301.2 102.9L1303.6 103.0L1306.0 103.0L1308.4 103.0L1310.8 103.1L1313.3 103.1L1315.7 103.1L1318.1 103.2L1320.5 103.2L1322.9 103.2L1325.3 103.2L1327.7 103.3L1330.2 103.3L1332.6 103.3L1335.0 103.3L1337.4 103.3L1339.8 103.4L1342.2 103.4L1344.7 103.4L1354.6 103.4L1364.5 103.5L1374.4 103.5L1384.3 103.5L1394.2 103.5L1404.1 103.5L1414.0 103.5L1423.9 103.5L1433.8 103.5L1443.7 103.5L1453.6 103.5L1463.5 103.5L1473.4 103.5L1483.3 103.5L1493.3 103.5L1503.2 103.5L1513.1 103.5L1523.0 103.5L1532.9 103.5L1542.8 103.5L1552.7 103.5" fill="none" stroke="#0072BD" stroke-width="4.50" stroke-dasharray="22.00 8.60 5.80 8.60"/>
<path d="M1151.5 118.2L1153.9 117.6L1156.3 117.0L1158.7 116.4L1161.1 115.8L1163.5 115.2L1165.9 114.6L1168.4 114.0L1170.8 113.3L1173.2 112.5L1175.6 111.7L1178.0 110.9L1180.4 110.1L1182.8 109.4L1185.3 108.7L1187.7 108.1L1190.1 107.6L1192.5 107.1L1194.9 106.7L1197.3 106.3L1199.8 106.0L1202.2 105.7L1204.6 105.4L1207.0 105.1L1209.4 104.9L1211.8 104.7L1214.2 104.5L1216.7 104.3L1219.1 104.1L1221.5 104.0L1223.9 103.8L1226.3 103.7L1228.7 103.6L1231.1 103.5L1233.6 103.5L1236.0 103.4L1238.4 103.4L1240.8 103.4L1243.2 103.4L1245.6 103.3L1248.0 103.3L1250.5 103.4L1252.9 103.4L1255.3 103.4L1257.7 103.4L1260.1 103.4L1262.5 103.4L1265.0 103.4L1267.4 103.4L1269.8 103.4L1272.2 103.5L1274.6 103.5L1277.0 103.5L1279.4 103.5L1281.9 103.5L1284.3 103.5L1286.7 103.5L1289.1 103.5L1291.5 103.5L1293.9 103.5L1296.3 103.5L1298.8 103.5L1301.2 103.5L1303.6 103.5L1306.0 103.5L1308.4 103.5L1310.8 103.5L1313.3 103.5L1315.7 103.5L1318.1 103.5L1320.5 103.5L1322.9 103.5L1325.3 103.5L1327.7 103.5L1330.2 103.5L1332.6 103.5L1335.0 103.5L1337.4 103.5L1339.8 103.5L1342.2 103.5L1344.7 103.5L1354.6 103.5L1364.5 103.5L1374.4 103.5L1384.3 103.5L1394.2 103.5L1404.1 103.5L1414.0 103.5L1423.9 103.5L1433.8 103.5L1443.7 103.5L1453.6 103.5L1463.5 103.5L1473.4 103.5L1483.3 103.5L1493.3 103.5L1503.2 103.5L1513.1 103.5L1523.0 103.5L1532.9 103.5L1542.8 103.5L1552.7 103.5" fill="none" stroke="#D95319" stroke-width="4.50" stroke-dasharray="22.00 8.60 5.80 8.60"/>
<path d="M1151.5 118.5L1153.9 118.3L1156.3 118.1L1158.7 117.9L1161.1 117.6L1163.5 117.4L1165.9 117.0L1168.4 116.6L1170.8 116.1L1173.2 115.5L1175.6 114.8L1178.0 114.1L1180.4 113.4L1182.8 112.7L1185.3 112.1L1187.7 111.5L1190.1 111.0L1192.5 110.5L1194.9 110.1L1197.3 109.7L1199.8 109.4L1202.2 109.1L1204.6 108.8L1207.0 108.5L1209.4 108.3L1211.8 108.0L1214.2 107.8L1216.7 107.5L1219.1 107.3L1221.5 107.1L1223.9 106.9L1226.3 106.6L1228.7 106.4L1231.1 106.2L1233.6 106.0L1236.0 105.8L1238.4 105.6L1240.8 105.5L1243.2 105.3L1245.6 105.1L1248.0 105.0L1250.5 104.8L1252.9 104.7L1255.3 104.5L1257.7 104.4L1260.1 104.3L1262.5 104.2L1265.0 104.1L1267.4 104.1L1269.8 104.0L1272.2 103.9L1274.6 103.9L1277.0 103.8L1279.4 103.8L1281.9 103.8L1284.3 103.8L1286.7 103.7L1289.1 103.7L1291.5 103.7L1293.9 103.7L1296.3 103.7L1298.8 103.7L1301.2 103.6L1303.6 103.6L1306.0 103.6L1308.4 103.6L1310.8 103.6L1313.3 103.6L1315.7 103.6L1318.1 103.6L1320.5 103.6L1322.9 103.5L1325.3 103.5L1327.7 103.5L1330.2 103.5L1332.6 103.5L1335.0 103.5L1337.4 103.5L1339.8 103.5L1342.2 103.5L1344.7 103.5L1354.6 103.5L1364.5 103.5L1374.4 103.5L1384.3 103.5L1394.2 103.5L1404.1 103.5L1414.0 103.5L1423.9 103.5L1433.8 103.5L1443.7 103.5L1453.6 103.5L1463.5 103.5L1473.4 103.5L1483.3 103.5L1493.3 103.5L1503.2 103.5L1513.1 103.5L1523.0 103.5L1532.9 103.5L1542.8 103.5L1552.7 103.5" fill="none" stroke="#EDB120" stroke-width="4.50" stroke-dasharray="22.00 8.60 5.80 8.60"/>
</g>
<g font-family="'Liberation Sans', sans-serif" font-size="41.2" fill="#262626">
<text x="1150.00" y="511.00" text-anchor="middle" textLength="22.11" lengthAdjust="spacingAndGlyphs">0</text>
<text x="1270.75" y="511.00" text-anchor="middle" textLength="22.11" lengthAdjust="spacingAndGlyphs">1</text>
<text x="1391.50" y="511.00" text-anchor="middle" textLength="22.11" lengthAdjust="spacingAndGlyphs">2</text>
<text x="1512.25" y="511.00" text-anchor="middle" textLength="22.11" lengthAdjust="spacingAndGlyphs">3</text>
<text x="1135.50" y="451.00" text-anchor="end" textLength="35.35" lengthAdjust="spacingAndGlyphs">-1</text>
<text x="1135.50" y="362.30" text-anchor="end" textLength="68.51" lengthAdjust="spacingAndGlyphs">-0.5</text>
<text x="1135.50" y="273.60" text-anchor="end" textLength="22.11" lengthAdjust="spacingAndGlyphs">0</text>
<text x="1135.50" y="184.90" text-anchor="end" textLength="55.27" lengthAdjust="spacingAndGlyphs">0.5</text>
<text x="1135.50" y="96.20" text-anchor="end" textLength="22.11" lengthAdjust="spacingAndGlyphs">1</text>
</g>
</g>
<g id="a4">
<rect x="84.30" y="786.00" width="402.90" height="402.65" fill="#fff" stroke="#262626" stroke-width="1.8"/>
<path d="M205.05 1188.65v-4.90 M205.05 786.00v4.90 M325.80 1188.65v-4.90 M325.80 786.00v4.90 M446.55 1188.65v-4.90 M446.55 786.00v4.90 M84.30 1087.99h4.90 M487.20 1087.99h-4.90 M84.30 987.33h4.90 M487.20 987.33h-4.90 M84.30 886.66h4.90 M487.20 886.66h-4.90" stroke="#262626" stroke-width="1.7" fill="none"/>
<clipPath id="cA4"><rect x="83.30" y="782.00" width="404.65" height="410.65"/></clipPath>
<g clip-path="url(#cA4)">
<path d="M85.8 1084.4L88.2 1078.5L90.6 1072.5L93.0 1066.4L95.4 1060.2L97.8 1053.9L100.2 1047.6L102.7 1041.2L105.1 1034.8L107.5 1028.4L109.9 1022.0L112.3 1015.7L114.7 1009.4L117.1 1003.2L119.6 997.1L122.0 991.1L124.4 985.2L126.8 979.5L129.2 973.9L131.6 968.5L134.1 963.2L136.5 958.1L138.9 953.2L141.3 948.4L143.7 943.7L146.1 939.3L148.5 935.0L151.0 931.0L153.4 927.1L155.8 923.4L158.2 919.9L160.6 916.6L163.0 913.4L165.4 910.5L167.9 907.6L170.3 905.0L172.7 902.5L175.1 900.1L177.5 897.9L179.9 895.8L182.4 893.8L184.8 892.0L187.2 890.3L189.6 888.7L192.0 887.2L194.4 885.8L196.8 884.5L199.3 883.3L201.7 882.2L204.1 881.1L206.5 880.1L208.9 879.2L211.3 878.3L213.7 877.5L216.2 876.7L218.6 875.9L221.0 875.1L223.4 874.4L225.8 873.7L228.2 873.1L230.6 872.5L233.1 871.8L235.5 871.3L237.9 870.7L240.3 870.2L242.7 869.7L245.1 869.2L247.6 868.8L250.0 868.3L252.4 867.9L254.8 867.5L257.2 867.1L259.6 866.7L262.0 866.3L264.5 865.9L266.9 865.6L269.3 865.3L271.7 865.0L274.1 864.7L276.5 864.5L278.9 864.3L288.9 863.5L298.8 863.0L308.7 862.7L318.6 862.5L328.5 862.4L338.4 862.3L348.4 862.2L358.3 862.2L368.2 862.2L378.1 862.2L388.0 862.2L397.9 862.2L407.9 862.2L417.8 862.2L427.7 862.2L437.6 862.2L447.5 862.2L457.4 862.2L467.4 862.2L477.3 862.2L487.2 862.2" fill="none" stroke="#0072BD" stroke-width="4.61"/>
<path d="M85.8 966.8L88.2 966.0L90.6 965.2L93.0 964.4L95.4 963.4L97.8 962.5L100.2 961.4L102.7 960.4L105.1 959.2L107.5 958.1L109.9 956.9L112.3 955.7L114.7 954.4L117.1 953.1L119.6 951.8L122.0 950.5L124.4 949.1L126.8 947.7L129.2 946.3L131.6 944.9L134.1 943.5L136.5 942.0L138.9 940.5L141.3 939.0L143.7 937.4L146.1 935.8L148.5 934.2L151.0 932.5L153.4 930.9L155.8 929.2L158.2 927.4L160.6 925.7L163.0 923.9L165.4 922.1L167.9 920.4L170.3 918.6L172.7 916.8L175.1 915.1L177.5 913.4L179.9 911.6L182.4 910.0L184.8 908.3L187.2 906.7L189.6 905.1L192.0 903.5L194.4 902.0L196.8 900.5L199.3 899.0L201.7 897.6L204.1 896.1L206.5 894.8L208.9 893.4L211.3 892.1L213.7 890.8L216.2 889.5L218.6 888.3L221.0 887.1L223.4 885.9L225.8 884.8L228.2 883.7L230.6 882.6L233.1 881.6L235.5 880.6L237.9 879.6L240.3 878.7L242.7 877.8L245.1 876.9L247.6 876.1L250.0 875.2L252.4 874.4L254.8 873.6L257.2 872.9L259.6 872.2L262.0 871.5L264.5 871.0L266.9 870.4L269.3 869.9L271.7 869.4L274.1 869.0L276.5 868.6L278.9 868.2L288.9 866.9L298.8 865.9L308.7 865.2L318.6 864.8L328.5 864.4L338.4 864.2L348.4 864.0L358.3 863.9L368.2 863.8L378.1 863.7L388.0 863.6L397.9 863.6L407.9 863.6L417.8 863.6L427.7 863.6L437.6 863.6L447.5 863.6L457.4 863.6L467.4 863.6L477.3 863.6L487.2 863.6" fill="none" stroke="#D95319" stroke-width="4.61"/>
<path d="M85.8 890.3L88.2 896.4L90.6 902.6L93.0 909.0L95.4 915.5L97.8 922.1L100.2 928.8L102.7 935.5L105.1 942.2L107.5 948.9L109.9 955.6L112.3 962.2L114.7 968.7L117.1 975.1L119.6 981.3L122.0 987.3L124.4 993.2L126.8 998.8L129.2 1004.3L131.6 1009.5L134.1 1014.6L136.5 1019.5L138.9 1024.2L141.3 1028.7L143.7 1033.0L146.1 1037.2L148.5 1041.2L151.0 1045.0L153.4 1048.6L155.8 1052.0L158.2 1055.3L160.6 1058.5L163.0 1061.4L165.4 1064.2L167.9 1066.9L170.3 1069.5L172.7 1071.9L175.1 1074.1L177.5 1076.3L179.9 1078.3L182.4 1080.2L184.8 1082.0L187.2 1083.7L189.6 1085.3L192.0 1086.8L194.4 1088.3L196.8 1089.6L199.3 1090.9L201.7 1092.0L204.1 1093.1L206.5 1094.2L208.9 1095.1L211.3 1096.1L213.7 1096.9L216.2 1097.7L218.6 1098.5L221.0 1099.2L223.4 1099.9L225.8 1100.5L228.2 1101.1L230.6 1101.7L233.1 1102.2L235.5 1102.7L237.9 1103.2L240.3 1103.6L242.7 1104.0L245.1 1104.4L247.6 1104.8L250.0 1105.1L252.4 1105.4L254.8 1105.7L257.2 1106.0L259.6 1106.3L262.0 1106.5L264.5 1106.8L266.9 1107.0L269.3 1107.2L271.7 1107.4L274.1 1107.7L276.5 1107.9L278.9 1108.0L288.9 1108.6L298.8 1108.9L308.7 1109.2L318.6 1109.4L328.5 1109.6L338.4 1109.7L348.4 1109.8L358.3 1109.8L368.2 1109.9L378.1 1109.9L388.0 1109.9L397.9 1109.9L407.9 1109.9L417.8 1109.9L427.7 1109.9L437.6 1109.9L447.5 1109.9L457.4 1109.9L467.4 1109.9L477.3 1109.9L487.2 1109.9" fill="none" stroke="#EDB120" stroke-width="4.61"/>
<path d="M85.8 1064.1L88.2 1057.6L90.6 1050.9L93.0 1044.1L95.4 1037.2L97.8 1030.2L100.2 1023.2L102.7 1016.1L105.1 1009.1L107.5 1002.2L109.9 995.3L112.3 988.6L114.7 982.1L117.1 975.8L119.6 969.7L122.0 963.9L124.4 958.4L126.8 953.1L129.2 948.1L131.6 943.4L134.1 938.9L136.5 934.6L138.9 930.6L141.3 926.7L143.7 923.1L146.1 919.6L148.5 916.4L151.0 913.2L153.4 910.3L155.8 907.5L158.2 904.8L160.6 902.3L163.0 899.9L165.4 897.7L167.9 895.5L170.3 893.5L172.7 891.7L175.1 889.9L177.5 888.2L179.9 886.6L182.4 885.1L184.8 883.8L187.2 882.4L189.6 881.2L192.0 880.1L194.4 879.0L196.8 878.0L199.3 877.0L201.7 876.2L204.1 875.3L206.5 874.5L208.9 873.8L211.3 873.1L213.7 872.4L216.2 871.8L218.6 871.2L221.0 870.6L223.4 870.0L225.8 869.5L228.2 869.0L230.6 868.5L233.1 868.0L235.5 867.6L237.9 867.1L240.3 866.7L242.7 866.3L245.1 866.0L247.6 865.6L250.0 865.3L252.4 864.9L254.8 864.6L257.2 864.4L259.6 864.1L262.0 863.8L264.5 863.6L266.9 863.4L269.3 863.2L271.7 863.0L274.1 862.8L276.5 862.7L278.9 862.5L288.9 862.0L298.8 861.6L308.7 861.4L318.6 861.3L328.5 861.2L338.4 861.2L348.4 861.2L358.3 861.2L368.2 861.2L378.1 861.2L388.0 861.2L397.9 861.2L407.9 861.2L417.8 861.2L427.7 861.2L437.6 861.2L447.5 861.2L457.4 861.2L467.4 861.2L477.3 861.2L487.2 861.2" fill="none" stroke="#0072BD" stroke-width="4.61" stroke-dasharray="29.01 17.22"/>
<path d="M85.8 1007.8L88.2 1008.5L90.6 1009.2L93.0 1009.9L95.4 1010.6L97.8 1011.4L100.2 1012.3L102.7 1013.1L105.1 1014.0L107.5 1014.9L109.9 1015.9L112.3 1016.9L114.7 1017.9L117.1 1018.9L119.6 1020.0L122.0 1021.1L124.4 1022.2L126.8 1023.3L129.2 1024.4L131.6 1025.6L134.1 1026.8L136.5 1028.0L138.9 1029.2L141.3 1030.5L143.7 1031.7L146.1 1033.0L148.5 1034.3L151.0 1035.6L153.4 1036.9L155.8 1038.3L158.2 1039.6L160.6 1041.0L163.0 1042.3L165.4 1043.7L167.9 1045.0L170.3 1046.3L172.7 1047.7L175.1 1049.0L177.5 1050.2L179.9 1051.5L182.4 1052.7L184.8 1053.8L187.2 1055.0L189.6 1056.1L192.0 1057.2L194.4 1058.2L196.8 1059.2L199.3 1060.2L201.7 1061.2L204.1 1062.1L206.5 1063.0L208.9 1063.8L211.3 1064.7L213.7 1065.5L216.2 1066.2L218.6 1067.0L221.0 1067.7L223.4 1068.4L225.8 1069.0L228.2 1069.6L230.6 1070.2L233.1 1070.8L235.5 1071.4L237.9 1071.9L240.3 1072.4L242.7 1072.9L245.1 1073.4L247.6 1073.8L250.0 1074.2L252.4 1074.6L254.8 1075.0L257.2 1075.4L259.6 1075.7L262.0 1076.1L264.5 1076.4L266.9 1076.6L269.3 1076.9L271.7 1077.2L274.1 1077.4L276.5 1077.7L278.9 1077.9L288.9 1078.9L298.8 1079.6L308.7 1080.1L318.6 1080.5L328.5 1080.8L338.4 1081.1L348.4 1081.2L358.3 1081.3L368.2 1081.4L378.1 1081.4L388.0 1081.5L397.9 1081.5L407.9 1081.5L417.8 1081.5L427.7 1081.5L437.6 1081.5L447.5 1081.5L457.4 1081.5L467.4 1081.5L477.3 1081.5L487.2 1081.5" fill="none" stroke="#D95319" stroke-width="4.61" stroke-dasharray="29.01 17.22"/>
<path d="M85.8 910.3L88.2 916.3L90.6 922.5L93.0 928.8L95.4 935.3L97.8 941.8L100.2 948.4L102.7 955.0L105.1 961.6L107.5 968.1L109.9 974.6L112.3 981.0L114.7 987.3L117.1 993.4L119.6 999.4L122.0 1005.1L124.4 1010.7L126.8 1016.0L129.2 1021.1L131.6 1026.0L134.1 1030.7L136.5 1035.3L138.9 1039.6L141.3 1043.7L143.7 1047.7L146.1 1051.4L148.5 1055.0L151.0 1058.4L153.4 1061.6L155.8 1064.7L158.2 1067.6L160.6 1070.4L163.0 1073.0L165.4 1075.4L167.9 1077.7L170.3 1079.9L172.7 1082.0L175.1 1083.9L177.5 1085.8L179.9 1087.5L182.4 1089.2L184.8 1090.7L187.2 1092.2L189.6 1093.6L192.0 1094.9L194.4 1096.1L196.8 1097.2L199.3 1098.3L201.7 1099.3L204.1 1100.3L206.5 1101.2L208.9 1102.0L211.3 1102.8L213.7 1103.5L216.2 1104.3L218.6 1104.9L221.0 1105.6L223.4 1106.2L225.8 1106.7L228.2 1107.3L230.6 1107.8L233.1 1108.2L235.5 1108.7L237.9 1109.1L240.3 1109.5L242.7 1109.9L245.1 1110.3L247.6 1110.6L250.0 1110.9L252.4 1111.2L254.8 1111.5L257.2 1111.7L259.6 1112.0L262.0 1112.2L264.5 1112.4L266.9 1112.6L269.3 1112.8L271.7 1112.9L274.1 1113.1L276.5 1113.3L278.9 1113.5L288.9 1114.0L298.8 1114.4L308.7 1114.8L318.6 1115.1L328.5 1115.4L338.4 1115.6L348.4 1115.7L358.3 1115.8L368.2 1115.8L378.1 1115.8L388.0 1115.9L397.9 1115.9L407.9 1115.9L417.8 1115.9L427.7 1115.9L437.6 1115.9L447.5 1115.9L457.4 1115.9L467.4 1115.9L477.3 1115.9L487.2 1115.9" fill="none" stroke="#EDB120" stroke-width="4.61" stroke-dasharray="29.01 17.22"/>
<path d="M85.8 828.7L88.2 827.9L90.6 827.1L93.0 826.2L95.4 825.2L97.8 824.2L100.2 823.2L102.7 822.2L105.1 821.1L107.5 820.0L109.9 819.0L112.3 817.9L114.7 816.9L117.1 815.9L119.6 815.0L122.0 814.0L124.4 813.2L126.8 812.3L129.2 811.5L131.6 810.8L134.1 810.1L136.5 809.5L138.9 808.8L141.3 808.3L143.7 807.8L146.1 807.3L148.5 806.8L151.0 806.4L153.4 806.0L155.8 805.7L158.2 805.4L160.6 805.1L163.0 804.9L165.4 804.7L167.9 804.5L170.3 804.3L172.7 804.1L175.1 804.0L177.5 803.9L179.9 803.7L182.4 803.6L184.8 803.5L187.2 803.4L189.6 803.3L192.0 803.2L194.4 803.1L196.8 803.0L199.3 802.9L201.7 802.8L204.1 802.7L206.5 802.7L208.9 802.6L211.3 802.5L213.7 802.5L216.2 802.4L218.6 802.4L221.0 802.3L223.4 802.3L225.8 802.2L228.2 802.2L230.6 802.1L233.1 802.1L235.5 802.1L237.9 802.1L240.3 802.0L242.7 802.0L245.1 802.0L247.6 802.0L250.0 802.0L252.4 802.0L254.8 802.0L257.2 801.9L259.6 801.9L262.0 801.9L264.5 801.9L266.9 801.9L269.3 801.9L271.7 801.9L274.1 801.9L276.5 801.9L278.9 801.9L288.9 801.8L298.8 801.8L308.7 801.8L318.6 801.8L328.5 801.8L338.4 801.8L348.4 801.8L358.3 801.8L368.2 801.8L378.1 801.8L388.0 801.8L397.9 801.8L407.9 801.8L417.8 801.8L427.7 801.8L437.6 801.8L447.5 801.8L457.4 801.8L467.4 801.8L477.3 801.8L487.2 801.8" fill="none" stroke="#0072BD" stroke-width="4.61" stroke-dasharray="22.55 8.81 5.94 8.81"/>
<path d="M85.8 829.1L88.2 828.9L90.6 828.7L93.0 828.4L95.4 828.1L97.8 827.8L100.2 827.5L102.7 827.2L105.1 826.8L107.5 826.4L109.9 826.0L112.3 825.7L114.7 825.2L117.1 824.8L119.6 824.4L122.0 824.0L124.4 823.6L126.8 823.1L129.2 822.7L131.6 822.3L134.1 821.8L136.5 821.4L138.9 820.9L141.3 820.5L143.7 820.0L146.1 819.6L148.5 819.1L151.0 818.7L153.4 818.2L155.8 817.8L158.2 817.3L160.6 816.8L163.0 816.4L165.4 815.9L167.9 815.5L170.3 815.1L172.7 814.6L175.1 814.2L177.5 813.8L179.9 813.4L182.4 813.0L184.8 812.6L187.2 812.3L189.6 811.9L192.0 811.5L194.4 811.2L196.8 810.9L199.3 810.5L201.7 810.2L204.1 809.9L206.5 809.6L208.9 809.4L211.3 809.1L213.7 808.8L216.2 808.6L218.6 808.3L221.0 808.1L223.4 807.9L225.8 807.7L228.2 807.4L230.6 807.2L233.1 807.1L235.5 806.9L237.9 806.7L240.3 806.5L242.7 806.4L245.1 806.2L247.6 806.1L250.0 805.9L252.4 805.8L254.8 805.7L257.2 805.6L259.6 805.5L262.0 805.4L264.5 805.3L266.9 805.2L269.3 805.1L271.7 805.1L274.1 805.0L276.5 804.9L278.9 804.9L288.9 804.7L298.8 804.6L308.7 804.6L318.6 804.6L328.5 804.5L338.4 804.5L348.4 804.5L358.3 804.5L368.2 804.5L378.1 804.5L388.0 804.5L397.9 804.5L407.9 804.5L417.8 804.5L427.7 804.5L437.6 804.5L447.5 804.5L457.4 804.5L467.4 804.5L477.3 804.5L487.2 804.5" fill="none" stroke="#D95319" stroke-width="4.61" stroke-dasharray="22.55 8.81 5.94 8.81"/>
<path d="M85.8 829.0L88.2 828.6L90.6 828.2L93.0 827.9L95.4 827.6L97.8 827.4L100.2 827.1L102.7 826.9L105.1 826.7L107.5 826.5L109.9 826.3L112.3 826.2L114.7 826.1L117.1 826.0L119.6 825.9L122.0 825.8L124.4 825.7L126.8 825.7L129.2 825.6L131.6 825.6L134.1 825.6L136.5 825.5L138.9 825.5L141.3 825.5L143.7 825.5L146.1 825.5L148.5 825.5L151.0 825.5L153.4 825.5L155.8 825.5L158.2 825.5L160.6 825.5L163.0 825.6L165.4 825.6L167.9 825.6L170.3 825.6L172.7 825.6L175.1 825.6L177.5 825.6L179.9 825.6L182.4 825.6L184.8 825.6L187.2 825.6L189.6 825.6L192.0 825.6L194.4 825.7L196.8 825.7L199.3 825.7L201.7 825.7L204.1 825.7L206.5 825.7L208.9 825.7L211.3 825.7L213.7 825.8L216.2 825.8L218.6 825.8L221.0 825.8L223.4 825.8L225.8 825.8L228.2 825.8L230.6 825.8L233.1 825.9L235.5 825.9L237.9 825.9L240.3 825.9L242.7 825.9L245.1 825.9L247.6 825.9L250.0 825.9L252.4 825.9L254.8 825.9L257.2 825.9L259.6 825.9L262.0 825.9L264.5 825.9L266.9 825.9L269.3 826.0L271.7 826.0L274.1 826.0L276.5 826.0L278.9 826.0L288.9 826.0L298.8 826.0L308.7 826.0L318.6 826.0L328.5 826.0L338.4 826.0L348.4 826.0L358.3 826.0L368.2 826.0L378.1 826.0L388.0 826.0L397.9 826.0L407.9 826.0L417.8 826.0L427.7 826.0L437.6 826.0L447.5 826.0L457.4 826.0L467.4 826.0L477.3 826.0L487.2 826.0" fill="none" stroke="#EDB120" stroke-width="4.61" stroke-dasharray="22.55 8.81 5.94 8.81"/>
</g>
<g font-family="'Liberation Sans', sans-serif" font-size="42.3" fill="#262626">
<text x="84.30" y="1243.37" text-anchor="middle" textLength="22.70" lengthAdjust="spacingAndGlyphs">0</text>
<text x="205.05" y="1243.37" text-anchor="middle" textLength="22.70" lengthAdjust="spacingAndGlyphs">1</text>
<text x="325.80" y="1243.37" text-anchor="middle" textLength="22.70" lengthAdjust="spacingAndGlyphs">2</text>
<text x="446.55" y="1243.37" text-anchor="middle" textLength="22.70" lengthAdjust="spacingAndGlyphs">3</text>
<text x="69.80" y="1204.65" text-anchor="end" textLength="36.30" lengthAdjust="spacingAndGlyphs">-1</text>
<text x="69.80" y="1103.99" text-anchor="end" textLength="70.34" lengthAdjust="spacingAndGlyphs">-0.5</text>
<text x="69.80" y="1003.33" text-anchor="end" textLength="22.70" lengthAdjust="spacingAndGlyphs">0</text>
<text x="69.80" y="902.66" text-anchor="end" textLength="56.75" lengthAdjust="spacingAndGlyphs">0.5</text>
<text x="69.80" y="802.00" text-anchor="end" textLength="22.70" lengthAdjust="spacingAndGlyphs">1</text>
</g>
</g>
<g id="a5">
<rect x="616.90" y="786.00" width="402.70" height="402.65" fill="#fff" stroke="#262626" stroke-width="1.8"/>
<path d="M737.65 1188.65v-4.90 M737.65 786.00v4.90 M858.40 1188.65v-4.90 M858.40 786.00v4.90 M979.15 1188.65v-4.90 M979.15 786.00v4.90 M616.90 1166.30h4.90 M1019.60 1166.30h-4.90 M616.90 1077.53h4.90 M1019.60 1077.53h-4.90 M616.90 988.75h4.90 M1019.60 988.75h-4.90 M616.90 899.98h4.90 M1019.60 899.98h-4.90 M616.90 811.20h4.90 M1019.60 811.20h-4.90" stroke="#262626" stroke-width="1.7" fill="none"/>
<clipPath id="cA5"><rect x="615.90" y="782.00" width="404.45" height="410.65"/></clipPath>
<g clip-path="url(#cA5)">
<path d="M618.4 1074.5L620.8 1069.5L623.2 1064.6L625.6 1059.6L628.0 1054.6L630.4 1049.6L632.8 1044.4L635.3 1039.2L637.7 1033.8L640.1 1028.2L642.5 1022.4L644.9 1016.4L647.3 1010.1L649.7 1003.5L652.2 996.6L654.6 989.4L657.0 981.9L659.4 974.1L661.8 966.1L664.2 957.9L666.6 949.7L669.1 941.5L671.5 933.3L673.9 925.2L676.3 917.2L678.7 909.5L681.1 902.1L683.6 895.0L686.0 888.3L688.4 882.0L690.8 876.0L693.2 870.4L695.6 865.1L698.0 860.2L700.5 855.6L702.9 851.2L705.3 847.1L707.7 843.3L710.1 839.8L712.5 836.4L715.0 833.3L717.4 830.4L719.8 827.7L722.2 825.2L724.6 822.8L727.0 820.7L729.4 818.6L731.9 816.7L734.3 814.9L736.7 813.3L739.1 811.8L741.5 810.3L743.9 808.9L746.3 807.7L748.8 806.4L751.2 805.3L753.6 804.1L756.0 803.0L758.4 802.0L760.8 801.0L763.2 800.1L765.7 799.2L768.1 798.3L770.5 797.5L772.9 796.7L775.3 795.9L777.7 795.2L780.2 794.5L782.6 793.9L785.0 793.2L787.4 792.7L789.8 792.1L792.2 791.6L794.6 791.2L797.1 790.8L799.5 790.4L801.9 790.1L804.3 789.8L806.7 789.5L809.1 789.3L811.5 789.1L821.5 788.4L831.4 787.8L841.3 787.4L851.2 787.0L861.1 786.8L871.0 786.6L880.9 786.4L890.8 786.3L900.7 786.2L910.6 786.2L920.5 786.1L930.4 786.1L940.3 786.0L950.2 786.0L960.2 786.0L970.1 786.0L980.0 786.0L989.9 786.0L999.8 786.0L1009.7 786.0L1019.6 786.0" fill="none" stroke="#0072BD" stroke-width="4.61"/>
<path d="M618.4 971.0L620.8 971.0L623.2 971.0L625.6 971.0L628.0 971.0L630.4 971.0L632.8 971.1L635.3 971.1L637.7 971.1L640.1 971.1L642.5 971.1L644.9 971.1L647.3 971.1L649.7 971.1L652.2 971.1L654.6 971.1L657.0 971.1L659.4 971.1L661.8 971.2L664.2 971.2L666.6 971.2L669.1 971.2L671.5 971.2L673.9 971.2L676.3 971.2L678.7 971.2L681.1 971.2L683.6 971.2L686.0 971.2L688.4 971.2L690.8 971.2L693.2 971.3L695.6 971.3L698.0 971.3L700.5 971.3L702.9 971.3L705.3 971.3L707.7 971.3L710.1 971.3L712.5 971.3L715.0 971.3L717.4 971.3L719.8 971.3L722.2 971.3L724.6 971.3L727.0 971.3L729.4 971.3L731.9 971.3L734.3 971.3L736.7 971.3L739.1 971.4L741.5 971.4L743.9 971.4L746.3 971.4L748.8 971.4L751.2 971.4L753.6 971.4L756.0 971.4L758.4 971.4L760.8 971.4L763.2 971.4L765.7 971.4L768.1 971.4L770.5 971.4L772.9 971.4L775.3 971.4L777.7 971.4L780.2 971.4L782.6 971.4L785.0 971.4L787.4 971.4L789.8 971.4L792.2 971.4L794.6 971.4L797.1 971.4L799.5 971.4L801.9 971.5L804.3 971.5L806.7 971.5L809.1 971.5L811.5 971.5L821.5 971.5L831.4 971.5L841.3 971.5L851.2 971.5L861.1 971.5L871.0 971.5L880.9 971.6L890.8 971.6L900.7 971.6L910.6 971.6L920.5 971.6L930.4 971.6L940.3 971.6L950.2 971.6L960.2 971.6L970.1 971.6L980.0 971.6L989.9 971.6L999.8 971.6L1009.7 971.6L1019.6 971.6" fill="none" stroke="#D95319" stroke-width="4.61"/>
<path d="M618.4 902.5L620.8 906.4L623.2 910.6L625.6 914.9L628.0 919.3L630.4 924.0L632.8 928.8L635.3 933.8L637.7 939.0L640.1 944.4L642.5 950.0L644.9 955.8L647.3 961.8L649.7 967.9L652.2 974.3L654.6 980.9L657.0 987.7L659.4 994.6L661.8 1001.6L664.2 1008.6L666.6 1015.7L669.1 1022.6L671.5 1029.5L673.9 1036.2L676.3 1042.8L678.7 1049.1L681.1 1055.1L683.6 1060.7L686.0 1066.0L688.4 1071.0L690.8 1075.6L693.2 1079.9L695.6 1084.0L698.0 1087.7L700.5 1091.3L702.9 1094.6L705.3 1097.7L707.7 1100.7L710.1 1103.5L712.5 1106.2L715.0 1108.8L717.4 1111.3L719.8 1113.8L722.2 1116.1L724.6 1118.4L727.0 1120.5L729.4 1122.6L731.9 1124.6L734.3 1126.5L736.7 1128.4L739.1 1130.1L741.5 1131.8L743.9 1133.4L746.3 1134.9L748.8 1136.3L751.2 1137.6L753.6 1138.9L756.0 1140.1L758.4 1141.2L760.8 1142.2L763.2 1143.2L765.7 1144.1L768.1 1145.0L770.5 1145.8L772.9 1146.5L775.3 1147.2L777.7 1147.8L780.2 1148.4L782.6 1149.0L785.0 1149.5L787.4 1150.0L789.8 1150.4L792.2 1150.9L794.6 1151.3L797.1 1151.6L799.5 1152.0L801.9 1152.4L804.3 1152.7L806.7 1153.0L809.1 1153.3L811.5 1153.6L821.5 1154.6L831.4 1155.3L841.3 1155.9L851.2 1156.4L861.1 1156.7L871.0 1157.0L880.9 1157.2L890.8 1157.3L900.7 1157.4L910.6 1157.5L920.5 1157.5L930.4 1157.6L940.3 1157.6L950.2 1157.6L960.2 1157.6L970.1 1157.6L980.0 1157.7L989.9 1157.7L999.8 1157.7L1009.7 1157.7L1019.6 1157.7" fill="none" stroke="#EDB120" stroke-width="4.61"/>
<path d="M618.4 1057.0L620.8 1052.5L623.2 1047.7L625.6 1042.5L628.0 1037.1L630.4 1031.4L632.8 1025.6L635.3 1019.5L637.7 1013.3L640.1 1007.0L642.5 1000.6L644.9 994.1L647.3 987.6L649.7 981.1L652.2 974.6L654.6 968.2L657.0 961.9L659.4 955.7L661.8 949.6L664.2 943.6L666.6 937.7L669.1 931.9L671.5 926.3L673.9 920.8L676.3 915.5L678.7 910.3L681.1 905.3L683.6 900.5L686.0 895.9L688.4 891.5L690.8 887.2L693.2 883.2L695.6 879.3L698.0 875.6L700.5 872.1L702.9 868.7L705.3 865.5L707.7 862.5L710.1 859.7L712.5 857.0L715.0 854.5L717.4 852.2L719.8 850.0L722.2 847.9L724.6 846.0L727.0 844.2L729.4 842.6L731.9 841.0L734.3 839.6L736.7 838.2L739.1 837.0L741.5 835.8L743.9 834.7L746.3 833.7L748.8 832.7L751.2 831.8L753.6 830.9L756.0 830.1L758.4 829.3L760.8 828.6L763.2 827.9L765.7 827.3L768.1 826.7L770.5 826.1L772.9 825.6L775.3 825.1L777.7 824.6L780.2 824.1L782.6 823.7L785.0 823.3L787.4 823.0L789.8 822.7L792.2 822.3L794.6 822.0L797.1 821.8L799.5 821.5L801.9 821.2L804.3 820.9L806.7 820.7L809.1 820.4L811.5 820.1L821.5 819.2L831.4 818.7L841.3 818.3L851.2 818.0L861.1 817.6L871.0 817.4L880.9 817.3L890.8 817.2L900.7 817.1L910.6 817.0L920.5 817.0L930.4 817.0L940.3 817.0L950.2 817.0L960.2 817.0L970.1 817.0L980.0 817.0L989.9 817.0L999.8 817.0L1009.7 817.0L1019.6 817.0" fill="none" stroke="#0072BD" stroke-width="4.61" stroke-dasharray="29.01 17.22"/>
<path d="M618.4 1006.4L620.8 1006.3L623.2 1006.2L625.6 1006.1L628.0 1006.0L630.4 1005.9L632.8 1005.8L635.3 1005.7L637.7 1005.6L640.1 1005.5L642.5 1005.4L644.9 1005.3L647.3 1005.2L649.7 1005.1L652.2 1005.0L654.6 1004.9L657.0 1004.8L659.4 1004.7L661.8 1004.7L664.2 1004.6L666.6 1004.5L669.1 1004.4L671.5 1004.4L673.9 1004.3L676.3 1004.2L678.7 1004.2L681.1 1004.1L683.6 1004.0L686.0 1004.0L688.4 1003.9L690.8 1003.9L693.2 1003.8L695.6 1003.8L698.0 1003.8L700.5 1003.7L702.9 1003.7L705.3 1003.7L707.7 1003.6L710.1 1003.6L712.5 1003.6L715.0 1003.5L717.4 1003.5L719.8 1003.5L722.2 1003.5L724.6 1003.4L727.0 1003.4L729.4 1003.4L731.9 1003.4L734.3 1003.3L736.7 1003.3L739.1 1003.3L741.5 1003.3L743.9 1003.3L746.3 1003.2L748.8 1003.2L751.2 1003.2L753.6 1003.2L756.0 1003.2L758.4 1003.2L760.8 1003.2L763.2 1003.2L765.7 1003.1L768.1 1003.1L770.5 1003.1L772.9 1003.1L775.3 1003.1L777.7 1003.1L780.2 1003.1L782.6 1003.1L785.0 1003.1L787.4 1003.1L789.8 1003.1L792.2 1003.1L794.6 1003.1L797.1 1003.1L799.5 1003.1L801.9 1003.1L804.3 1003.1L806.7 1003.1L809.1 1003.1L811.5 1003.1L821.5 1003.1L831.4 1003.1L841.3 1003.1L851.2 1003.1L861.1 1003.1L871.0 1003.1L880.9 1003.1L890.8 1003.1L900.7 1003.1L910.6 1003.1L920.5 1003.1L930.4 1003.1L940.3 1003.1L950.2 1003.1L960.2 1003.1L970.1 1003.1L980.0 1003.1L989.9 1003.1L999.8 1003.1L1009.7 1003.1L1019.6 1003.1" fill="none" stroke="#D95319" stroke-width="4.61" stroke-dasharray="29.01 17.22"/>
<path d="M618.4 920.1L620.8 924.5L623.2 929.3L625.6 934.5L628.0 940.2L630.4 946.1L632.8 952.4L635.3 959.0L637.7 965.8L640.1 972.8L642.5 980.0L644.9 987.4L647.3 994.8L649.7 1002.3L652.2 1009.9L654.6 1017.5L657.0 1025.0L659.4 1032.5L661.8 1039.9L664.2 1047.2L666.6 1054.4L669.1 1061.5L671.5 1068.3L673.9 1075.0L676.3 1081.5L678.7 1087.7L681.1 1093.7L683.6 1099.3L686.0 1104.7L688.4 1109.7L690.8 1114.5L693.2 1119.0L695.6 1123.2L698.0 1127.2L700.5 1131.0L702.9 1134.5L705.3 1137.8L707.7 1140.9L710.1 1143.8L712.5 1146.5L715.0 1149.1L717.4 1151.5L719.8 1153.8L722.2 1155.9L724.6 1157.9L727.0 1159.8L729.4 1161.5L731.9 1163.1L734.3 1164.7L736.7 1166.1L739.1 1167.4L741.5 1168.7L743.9 1169.9L746.3 1171.0L748.8 1172.0L751.2 1173.0L753.6 1173.9L756.0 1174.8L758.4 1175.6L760.8 1176.4L763.2 1177.2L765.7 1177.9L768.1 1178.5L770.5 1179.1L772.9 1179.7L775.3 1180.3L777.7 1180.8L780.2 1181.2L782.6 1181.7L785.0 1182.1L787.4 1182.5L789.8 1182.9L792.2 1183.2L794.6 1183.6L797.1 1183.9L799.5 1184.2L801.9 1184.4L804.3 1184.7L806.7 1184.9L809.1 1185.1L811.5 1185.3L821.5 1186.0L831.4 1186.6L841.3 1187.2L851.2 1187.6L861.1 1187.9L871.0 1188.1L880.9 1188.2L890.8 1188.4L900.7 1188.5L910.6 1188.5L920.5 1188.6L930.4 1188.6L940.3 1188.6L950.2 1188.6L960.2 1188.7L970.1 1188.7L980.0 1188.7L989.9 1188.7L999.8 1188.7L1009.7 1188.7L1019.6 1188.7" fill="none" stroke="#EDB120" stroke-width="4.61" stroke-dasharray="29.01 17.22"/>
<path d="M618.4 848.9L620.8 848.3L623.2 847.5L625.6 846.7L628.0 845.8L630.4 844.8L632.8 843.9L635.3 842.9L637.7 841.8L640.1 840.8L642.5 839.7L644.9 838.7L647.3 837.6L649.7 836.6L652.2 835.7L654.6 834.7L657.0 833.9L659.4 833.1L661.8 832.3L664.2 831.6L666.6 831.0L669.1 830.4L671.5 829.9L673.9 829.4L676.3 829.0L678.7 828.7L681.1 828.4L683.6 828.2L686.0 828.1L688.4 828.0L690.8 828.0L693.2 828.0L695.6 828.1L698.0 828.2L700.5 828.4L702.9 828.5L705.3 828.7L707.7 828.9L710.1 829.1L712.5 829.4L715.0 829.6L717.4 829.8L719.8 830.0L722.2 830.2L724.6 830.4L727.0 830.5L729.4 830.7L731.9 830.9L734.3 831.0L736.7 831.2L739.1 831.3L741.5 831.5L743.9 831.6L746.3 831.8L748.8 831.9L751.2 832.0L753.6 832.2L756.0 832.3L758.4 832.4L760.8 832.5L763.2 832.6L765.7 832.7L768.1 832.8L770.5 832.9L772.9 833.0L775.3 833.1L777.7 833.2L780.2 833.3L782.6 833.3L785.0 833.4L787.4 833.5L789.8 833.5L792.2 833.6L794.6 833.7L797.1 833.7L799.5 833.8L801.9 833.8L804.3 833.9L806.7 833.9L809.1 833.9L811.5 834.0L821.5 834.1L831.4 834.1L841.3 834.1L851.2 834.1L861.1 834.1L871.0 834.1L880.9 834.1L890.8 834.1L900.7 834.1L910.6 834.1L920.5 834.1L930.4 834.1L940.3 834.1L950.2 834.1L960.2 834.1L970.1 834.1L980.0 834.1L989.9 834.1L999.8 834.1L1009.7 834.1L1019.6 834.1" fill="none" stroke="#0072BD" stroke-width="4.61" stroke-dasharray="22.55 8.81 5.94 8.81"/>
<path d="M618.4 849.1L620.8 848.9L623.2 848.5L625.6 848.2L628.0 847.9L630.4 847.5L632.8 847.1L635.3 846.7L637.7 846.3L640.1 845.9L642.5 845.5L644.9 845.2L647.3 844.8L649.7 844.4L652.2 844.1L654.6 843.7L657.0 843.4L659.4 843.1L661.8 842.9L664.2 842.6L666.6 842.3L669.1 842.1L671.5 841.8L673.9 841.6L676.3 841.3L678.7 841.0L681.1 840.8L683.6 840.5L686.0 840.1L688.4 839.8L690.8 839.5L693.2 839.1L695.6 838.7L698.0 838.4L700.5 838.0L702.9 837.7L705.3 837.4L707.7 837.1L710.1 836.8L712.5 836.5L715.0 836.2L717.4 836.0L719.8 835.8L722.2 835.7L724.6 835.5L727.0 835.4L729.4 835.3L731.9 835.2L734.3 835.1L736.7 835.1L739.1 835.0L741.5 834.9L743.9 834.9L746.3 834.9L748.8 834.8L751.2 834.8L753.6 834.8L756.0 834.7L758.4 834.7L760.8 834.6L763.2 834.6L765.7 834.6L768.1 834.5L770.5 834.5L772.9 834.5L775.3 834.4L777.7 834.4L780.2 834.4L782.6 834.3L785.0 834.3L787.4 834.3L789.8 834.2L792.2 834.2L794.6 834.2L797.1 834.2L799.5 834.1L801.9 834.1L804.3 834.1L806.7 834.1L809.1 834.1L811.5 834.1L821.5 834.1L831.4 834.1L841.3 834.1L851.2 834.1L861.1 834.1L871.0 834.1L880.9 834.1L890.8 834.1L900.7 834.1L910.6 834.1L920.5 834.1L930.4 834.1L940.3 834.1L950.2 834.1L960.2 834.1L970.1 834.1L980.0 834.1L989.9 834.1L999.8 834.1L1009.7 834.1L1019.6 834.1" fill="none" stroke="#D95319" stroke-width="4.61" stroke-dasharray="22.55 8.81 5.94 8.81"/>
<path d="M618.4 849.3L620.8 849.3L623.2 849.4L625.6 849.4L628.0 849.4L630.4 849.4L632.8 849.3L635.3 849.3L637.7 849.2L640.1 849.1L642.5 849.0L644.9 848.8L647.3 848.6L649.7 848.3L652.2 848.0L654.6 847.7L657.0 847.3L659.4 846.9L661.8 846.4L664.2 845.9L666.6 845.4L669.1 844.8L671.5 844.3L673.9 843.7L676.3 843.1L678.7 842.6L681.1 842.0L683.6 841.5L686.0 840.9L688.4 840.4L690.8 839.9L693.2 839.5L695.6 839.0L698.0 838.6L700.5 838.2L702.9 837.8L705.3 837.5L707.7 837.1L710.1 836.8L712.5 836.6L715.0 836.3L717.4 836.1L719.8 835.9L722.2 835.8L724.6 835.6L727.0 835.5L729.4 835.4L731.9 835.3L734.3 835.2L736.7 835.2L739.1 835.1L741.5 835.0L743.9 835.0L746.3 835.0L748.8 834.9L751.2 834.9L753.6 834.9L756.0 834.8L758.4 834.8L760.8 834.7L763.2 834.7L765.7 834.7L768.1 834.6L770.5 834.6L772.9 834.5L775.3 834.5L777.7 834.5L780.2 834.4L782.6 834.4L785.0 834.3L787.4 834.3L789.8 834.3L792.2 834.2L794.6 834.2L797.1 834.2L799.5 834.2L801.9 834.1L804.3 834.1L806.7 834.1L809.1 834.1L811.5 834.1L821.5 834.1L831.4 834.1L841.3 834.1L851.2 834.1L861.1 834.1L871.0 834.1L880.9 834.1L890.8 834.1L900.7 834.1L910.6 834.1L920.5 834.1L930.4 834.1L940.3 834.1L950.2 834.1L960.2 834.1L970.1 834.1L980.0 834.1L989.9 834.1L999.8 834.1L1009.7 834.1L1019.6 834.1" fill="none" stroke="#EDB120" stroke-width="4.61" stroke-dasharray="22.55 8.81 5.94 8.81"/>
</g>
<g font-family="'Liberation Sans', sans-serif" font-size="42.3" fill="#262626">
<text x="616.90" y="1243.37" text-anchor="middle" textLength="22.70" lengthAdjust="spacingAndGlyphs">0</text>
<text x="737.65" y="1243.37" text-anchor="middle" textLength="22.70" lengthAdjust="spacingAndGlyphs">1</text>
<text x="858.40" y="1243.37" text-anchor="middle" textLength="22.70" lengthAdjust="spacingAndGlyphs">2</text>
<text x="979.15" y="1243.37" text-anchor="middle" textLength="22.70" lengthAdjust="spacingAndGlyphs">3</text>
<text x="602.40" y="1182.30" text-anchor="end" textLength="36.30" lengthAdjust="spacingAndGlyphs">-1</text>
<text x="602.40" y="1093.53" text-anchor="end" textLength="70.34" lengthAdjust="spacingAndGlyphs">-0.5</text>
<text x="602.40" y="1004.75" text-anchor="end" textLength="22.70" lengthAdjust="spacingAndGlyphs">0</text>
<text x="602.40" y="915.98" text-anchor="end" textLength="56.75" lengthAdjust="spacingAndGlyphs">0.5</text>
<text x="602.40" y="827.20" text-anchor="end" textLength="22.70" lengthAdjust="spacingAndGlyphs">1</text>
</g>
</g>
<g id="a6">
<rect x="1149.00" y="786.00" width="403.20" height="402.65" fill="#fff" stroke="#262626" stroke-width="1.8"/>
<path d="M1269.75 1188.65v-4.90 M1269.75 786.00v4.90 M1390.50 1188.65v-4.90 M1390.50 786.00v4.90 M1511.25 1188.65v-4.90 M1511.25 786.00v4.90 M1149.00 1166.30h4.90 M1552.20 1166.30h-4.90 M1149.00 1077.53h4.90 M1552.20 1077.53h-4.90 M1149.00 988.75h4.90 M1552.20 988.75h-4.90 M1149.00 899.98h4.90 M1552.20 899.98h-4.90 M1149.00 811.20h4.90 M1552.20 811.20h-4.90" stroke="#262626" stroke-width="1.7" fill="none"/>
<clipPath id="cA6"><rect x="1148.00" y="782.00" width="404.95" height="410.65"/></clipPath>
<g clip-path="url(#cA6)">
<path d="M1150.5 1072.4L1152.9 1062.9L1155.3 1052.5L1157.7 1041.3L1160.1 1029.5L1162.5 1017.1L1164.9 1004.4L1167.4 991.5L1169.8 978.4L1172.2 965.5L1174.6 952.7L1177.0 940.3L1179.4 928.2L1181.8 916.7L1184.3 905.9L1186.7 895.8L1189.1 886.6L1191.5 878.1L1193.9 870.3L1196.3 863.2L1198.8 856.7L1201.2 850.8L1203.6 845.4L1206.0 840.4L1208.4 835.9L1210.8 831.8L1213.2 828.1L1215.7 824.7L1218.1 821.6L1220.5 818.8L1222.9 816.3L1225.3 814.0L1227.7 811.8L1230.1 809.8L1232.6 808.0L1235.0 806.3L1237.4 804.7L1239.8 803.3L1242.2 801.9L1244.6 800.7L1247.0 799.6L1249.5 798.6L1251.9 797.7L1254.3 796.8L1256.7 796.0L1259.1 795.3L1261.5 794.7L1264.0 794.1L1266.4 793.5L1268.8 793.0L1271.2 792.6L1273.6 792.2L1276.0 791.8L1278.4 791.4L1280.9 791.1L1283.3 790.8L1285.7 790.6L1288.1 790.3L1290.5 790.1L1292.9 789.9L1295.3 789.7L1297.8 789.5L1300.2 789.3L1302.6 789.1L1305.0 788.9L1307.4 788.7L1309.8 788.6L1312.3 788.4L1314.7 788.2L1317.1 788.1L1319.5 787.9L1321.9 787.7L1324.3 787.6L1326.7 787.4L1329.2 787.3L1331.6 787.2L1334.0 787.1L1336.4 787.0L1338.8 786.9L1341.2 786.8L1343.7 786.7L1353.6 786.4L1363.5 786.3L1373.4 786.2L1383.4 786.2L1393.3 786.1L1403.2 786.1L1413.2 786.0L1423.1 786.0L1433.0 786.0L1443.0 786.0L1452.9 786.0L1462.8 786.0L1472.8 786.0L1482.7 786.0L1492.6 786.0L1502.5 786.0L1512.5 786.0L1522.4 786.0L1532.3 786.0L1542.3 786.0L1552.2 786.0" fill="none" stroke="#0072BD" stroke-width="4.61"/>
<path d="M1150.5 970.4L1152.9 969.6L1155.3 968.8L1157.7 968.2L1160.1 967.6L1162.5 967.1L1164.9 966.7L1167.4 966.4L1169.8 966.0L1172.2 965.7L1174.6 965.5L1177.0 965.3L1179.4 965.1L1181.8 965.0L1184.3 964.9L1186.7 964.9L1189.1 964.9L1191.5 965.0L1193.9 965.1L1196.3 965.2L1198.8 965.3L1201.2 965.5L1203.6 965.7L1206.0 965.9L1208.4 966.1L1210.8 966.4L1213.2 966.6L1215.7 966.9L1218.1 967.1L1220.5 967.3L1222.9 967.6L1225.3 967.8L1227.7 968.0L1230.1 968.2L1232.6 968.4L1235.0 968.6L1237.4 968.7L1239.8 968.9L1242.2 969.0L1244.6 969.1L1247.0 969.3L1249.5 969.4L1251.9 969.5L1254.3 969.6L1256.7 969.6L1259.1 969.7L1261.5 969.8L1264.0 969.9L1266.4 970.0L1268.8 970.0L1271.2 970.1L1273.6 970.2L1276.0 970.2L1278.4 970.3L1280.9 970.4L1283.3 970.4L1285.7 970.5L1288.1 970.5L1290.5 970.6L1292.9 970.6L1295.3 970.7L1297.8 970.7L1300.2 970.8L1302.6 970.8L1305.0 970.8L1307.4 970.9L1309.8 970.9L1312.3 971.0L1314.7 971.0L1317.1 971.0L1319.5 971.1L1321.9 971.1L1324.3 971.1L1326.7 971.2L1329.2 971.2L1331.6 971.2L1334.0 971.3L1336.4 971.3L1338.8 971.3L1341.2 971.3L1343.7 971.3L1353.6 971.4L1363.5 971.5L1373.4 971.5L1383.4 971.5L1393.3 971.5L1403.2 971.5L1413.2 971.5L1423.1 971.5L1433.0 971.5L1443.0 971.5L1452.9 971.5L1462.8 971.5L1472.8 971.5L1482.7 971.5L1492.6 971.5L1502.5 971.5L1512.5 971.5L1522.4 971.5L1532.3 971.5L1542.3 971.5L1552.2 971.5" fill="none" stroke="#D95319" stroke-width="4.61"/>
<path d="M1150.5 905.2L1152.9 914.5L1155.3 924.5L1157.7 935.2L1160.1 946.4L1162.5 958.0L1164.9 969.8L1167.4 981.7L1169.8 993.7L1172.2 1005.4L1174.6 1017.0L1177.0 1028.2L1179.4 1038.9L1181.8 1049.0L1184.3 1058.4L1186.7 1067.0L1189.1 1074.9L1191.5 1081.9L1193.9 1088.3L1196.3 1094.1L1198.8 1099.3L1201.2 1104.0L1203.6 1108.4L1206.0 1112.4L1208.4 1116.0L1210.8 1119.4L1213.2 1122.5L1215.7 1125.3L1218.1 1127.9L1220.5 1130.2L1222.9 1132.4L1225.3 1134.4L1227.7 1136.2L1230.1 1137.9L1232.6 1139.4L1235.0 1140.9L1237.4 1142.2L1239.8 1143.4L1242.2 1144.5L1244.6 1145.5L1247.0 1146.4L1249.5 1147.3L1251.9 1148.0L1254.3 1148.7L1256.7 1149.4L1259.1 1150.0L1261.5 1150.5L1264.0 1151.1L1266.4 1151.5L1268.8 1152.0L1271.2 1152.4L1273.6 1152.7L1276.0 1153.1L1278.4 1153.4L1280.9 1153.7L1283.3 1153.9L1285.7 1154.2L1288.1 1154.4L1290.5 1154.6L1292.9 1154.8L1295.3 1155.0L1297.8 1155.2L1300.2 1155.3L1302.6 1155.5L1305.0 1155.6L1307.4 1155.7L1309.8 1155.9L1312.3 1156.0L1314.7 1156.1L1317.1 1156.2L1319.5 1156.3L1321.9 1156.4L1324.3 1156.5L1326.7 1156.6L1329.2 1156.6L1331.6 1156.7L1334.0 1156.8L1336.4 1156.8L1338.8 1156.9L1341.2 1156.9L1343.7 1157.0L1353.6 1157.2L1363.5 1157.3L1373.4 1157.5L1383.4 1157.5L1393.3 1157.5L1403.2 1157.6L1413.2 1157.6L1423.1 1157.6L1433.0 1157.6L1443.0 1157.6L1452.9 1157.6L1462.8 1157.6L1472.8 1157.7L1482.7 1157.7L1492.6 1157.7L1502.5 1157.7L1512.5 1157.7L1522.4 1157.7L1532.3 1157.7L1542.3 1157.7L1552.2 1157.7" fill="none" stroke="#EDB120" stroke-width="4.61"/>
<path d="M1150.5 1053.4L1152.9 1042.6L1155.3 1031.6L1157.7 1020.5L1160.1 1009.2L1162.5 997.8L1164.9 986.4L1167.4 975.0L1169.8 963.6L1172.2 952.4L1174.6 941.5L1177.0 930.9L1179.4 920.9L1181.8 911.6L1184.3 903.0L1186.7 895.4L1189.1 888.6L1191.5 882.5L1193.9 877.2L1196.3 872.5L1198.8 868.2L1201.2 864.3L1203.6 860.7L1206.0 857.2L1208.4 854.0L1210.8 850.9L1213.2 848.1L1215.7 845.4L1218.1 842.9L1220.5 840.6L1222.9 838.5L1225.3 836.6L1227.7 834.9L1230.1 833.3L1232.6 832.0L1235.0 830.8L1237.4 829.7L1239.8 828.8L1242.2 828.0L1244.6 827.3L1247.0 826.7L1249.5 826.2L1251.9 825.7L1254.3 825.2L1256.7 824.8L1259.1 824.4L1261.5 824.0L1264.0 823.6L1266.4 823.2L1268.8 822.8L1271.2 822.5L1273.6 822.1L1276.0 821.8L1278.4 821.4L1280.9 821.1L1283.3 820.8L1285.7 820.5L1288.1 820.2L1290.5 820.0L1292.9 819.7L1295.3 819.5L1297.8 819.3L1300.2 819.1L1302.6 818.9L1305.0 818.7L1307.4 818.6L1309.8 818.4L1312.3 818.3L1314.7 818.2L1317.1 818.1L1319.5 818.0L1321.9 817.9L1324.3 817.9L1326.7 817.8L1329.2 817.8L1331.6 817.7L1334.0 817.7L1336.4 817.6L1338.8 817.6L1341.2 817.5L1343.7 817.5L1353.6 817.4L1363.5 817.2L1373.4 817.1L1383.4 817.1L1393.3 817.1L1403.2 817.1L1413.2 817.1L1423.1 817.1L1433.0 817.1L1443.0 817.1L1452.9 817.1L1462.8 817.1L1472.8 817.1L1482.7 817.1L1492.6 817.1L1502.5 817.1L1512.5 817.1L1522.4 817.1L1532.3 817.1L1542.3 817.1L1552.2 817.1" fill="none" stroke="#0072BD" stroke-width="4.61" stroke-dasharray="29.01 17.22"/>
<path d="M1150.5 1006.8L1152.9 1007.2L1155.3 1007.6L1157.7 1007.9L1160.1 1008.3L1162.5 1008.6L1164.9 1008.9L1167.4 1009.1L1169.8 1009.4L1172.2 1009.5L1174.6 1009.7L1177.0 1009.8L1179.4 1009.9L1181.8 1010.0L1184.3 1010.0L1186.7 1009.9L1189.1 1009.8L1191.5 1009.7L1193.9 1009.5L1196.3 1009.3L1198.8 1009.1L1201.2 1008.8L1203.6 1008.6L1206.0 1008.3L1208.4 1008.0L1210.8 1007.7L1213.2 1007.5L1215.7 1007.2L1218.1 1006.9L1220.5 1006.7L1222.9 1006.4L1225.3 1006.2L1227.7 1006.0L1230.1 1005.8L1232.6 1005.6L1235.0 1005.4L1237.4 1005.3L1239.8 1005.1L1242.2 1005.0L1244.6 1004.9L1247.0 1004.8L1249.5 1004.7L1251.9 1004.6L1254.3 1004.5L1256.7 1004.4L1259.1 1004.3L1261.5 1004.2L1264.0 1004.2L1266.4 1004.1L1268.8 1004.0L1271.2 1004.0L1273.6 1003.9L1276.0 1003.8L1278.4 1003.8L1280.9 1003.7L1283.3 1003.7L1285.7 1003.6L1288.1 1003.6L1290.5 1003.5L1292.9 1003.5L1295.3 1003.4L1297.8 1003.4L1300.2 1003.3L1302.6 1003.3L1305.0 1003.2L1307.4 1003.2L1309.8 1003.2L1312.3 1003.1L1314.7 1003.1L1317.1 1003.1L1319.5 1003.0L1321.9 1003.0L1324.3 1003.0L1326.7 1002.9L1329.2 1002.9L1331.6 1002.9L1334.0 1002.9L1336.4 1002.8L1338.8 1002.8L1341.2 1002.8L1343.7 1002.8L1353.6 1002.8L1363.5 1002.7L1373.4 1002.7L1383.4 1002.7L1393.3 1002.7L1403.2 1002.7L1413.2 1002.7L1423.1 1002.7L1433.0 1002.7L1443.0 1002.7L1452.9 1002.7L1462.8 1002.7L1472.8 1002.7L1482.7 1002.7L1492.6 1002.7L1502.5 1002.7L1512.5 1002.7L1522.4 1002.7L1532.3 1002.7L1542.3 1002.7L1552.2 1002.7" fill="none" stroke="#D95319" stroke-width="4.61" stroke-dasharray="29.01 17.22"/>
<path d="M1150.5 923.3L1152.9 933.3L1155.3 944.2L1157.7 955.9L1160.1 968.1L1162.5 980.7L1164.9 993.6L1167.4 1006.5L1169.8 1019.2L1172.2 1031.8L1174.6 1044.0L1177.0 1055.7L1179.4 1066.9L1181.8 1077.5L1184.3 1087.2L1186.7 1096.2L1189.1 1104.2L1191.5 1111.4L1193.9 1117.9L1196.3 1123.8L1198.8 1129.1L1201.2 1133.9L1203.6 1138.3L1206.0 1142.3L1208.4 1146.0L1210.8 1149.3L1213.2 1152.4L1215.7 1155.2L1218.1 1157.8L1220.5 1160.2L1222.9 1162.3L1225.3 1164.3L1227.7 1166.1L1230.1 1167.8L1232.6 1169.4L1235.0 1170.8L1237.4 1172.1L1239.8 1173.4L1242.2 1174.5L1244.6 1175.5L1247.0 1176.5L1249.5 1177.3L1251.9 1178.1L1254.3 1178.9L1256.7 1179.5L1259.1 1180.1L1261.5 1180.7L1264.0 1181.2L1266.4 1181.7L1268.8 1182.2L1271.2 1182.6L1273.6 1183.0L1276.0 1183.3L1278.4 1183.6L1280.9 1183.9L1283.3 1184.2L1285.7 1184.5L1288.1 1184.7L1290.5 1184.9L1292.9 1185.1L1295.3 1185.4L1297.8 1185.6L1300.2 1185.8L1302.6 1185.9L1305.0 1186.1L1307.4 1186.3L1309.8 1186.5L1312.3 1186.6L1314.7 1186.8L1317.1 1187.0L1319.5 1187.1L1321.9 1187.3L1324.3 1187.4L1326.7 1187.5L1329.2 1187.6L1331.6 1187.7L1334.0 1187.8L1336.4 1187.9L1338.8 1188.0L1341.2 1188.1L1343.7 1188.1L1353.6 1188.3L1363.5 1188.5L1373.4 1188.6L1383.4 1188.7L1393.3 1188.7L1403.2 1188.7L1413.2 1188.7L1423.1 1188.7L1433.0 1188.7L1443.0 1188.7L1452.9 1188.7L1462.8 1188.7L1472.8 1188.7L1482.7 1188.7L1492.6 1188.7L1502.5 1188.7L1512.5 1188.7L1522.4 1188.7L1532.3 1188.7L1542.3 1188.7L1552.2 1188.7" fill="none" stroke="#EDB120" stroke-width="4.61" stroke-dasharray="29.01 17.22"/>
<path d="M1150.5 848.1L1152.9 846.1L1155.3 844.2L1157.7 842.2L1160.1 840.4L1162.5 838.6L1164.9 836.8L1167.4 835.2L1169.8 833.7L1172.2 832.3L1174.6 831.0L1177.0 829.9L1179.4 828.9L1181.8 828.1L1184.3 827.5L1186.7 827.2L1189.1 827.0L1191.5 827.0L1193.9 827.1L1196.3 827.3L1198.8 827.6L1201.2 828.0L1203.6 828.3L1206.0 828.6L1208.4 828.9L1210.8 829.2L1213.2 829.5L1215.7 829.7L1218.1 829.9L1220.5 830.1L1222.9 830.3L1225.3 830.5L1227.7 830.7L1230.1 830.9L1232.6 831.0L1235.0 831.2L1237.4 831.3L1239.8 831.5L1242.2 831.6L1244.6 831.8L1247.0 831.9L1249.5 832.0L1251.9 832.1L1254.3 832.3L1256.7 832.4L1259.1 832.5L1261.5 832.6L1264.0 832.6L1266.4 832.7L1268.8 832.8L1271.2 832.9L1273.6 833.0L1276.0 833.0L1278.4 833.1L1280.9 833.1L1283.3 833.2L1285.7 833.3L1288.1 833.3L1290.5 833.4L1292.9 833.4L1295.3 833.4L1297.8 833.5L1300.2 833.5L1302.6 833.6L1305.0 833.6L1307.4 833.6L1309.8 833.7L1312.3 833.7L1314.7 833.7L1317.1 833.8L1319.5 833.8L1321.9 833.8L1324.3 833.9L1326.7 833.9L1329.2 833.9L1331.6 833.9L1334.0 833.9L1336.4 834.0L1338.8 834.0L1341.2 834.0L1343.7 834.0L1353.6 834.1L1363.5 834.1L1373.4 834.1L1383.4 834.1L1393.3 834.1L1403.2 834.1L1413.2 834.1L1423.1 834.1L1433.0 834.1L1443.0 834.1L1452.9 834.1L1462.8 834.1L1472.8 834.1L1482.7 834.1L1492.6 834.1L1502.5 834.1L1512.5 834.1L1522.4 834.1L1532.3 834.1L1542.3 834.1L1552.2 834.1" fill="none" stroke="#0072BD" stroke-width="4.61" stroke-dasharray="22.55 8.81 5.94 8.81"/>
<path d="M1150.5 848.9L1152.9 848.2L1155.3 847.6L1157.7 847.0L1160.1 846.4L1162.5 845.9L1164.9 845.3L1167.4 844.6L1169.8 843.9L1172.2 843.1L1174.6 842.3L1177.0 841.5L1179.4 840.8L1181.8 840.0L1184.3 839.3L1186.7 838.7L1189.1 838.2L1191.5 837.7L1193.9 837.3L1196.3 836.9L1198.8 836.6L1201.2 836.3L1203.6 836.0L1206.0 835.8L1208.4 835.5L1210.8 835.3L1213.2 835.1L1215.7 834.9L1218.1 834.7L1220.5 834.6L1222.9 834.5L1225.3 834.3L1227.7 834.2L1230.1 834.2L1232.6 834.1L1235.0 834.0L1237.4 834.0L1239.8 834.0L1242.2 834.0L1244.6 834.0L1247.0 834.0L1249.5 834.0L1251.9 834.0L1254.3 834.0L1256.7 834.0L1259.1 834.0L1261.5 834.0L1264.0 834.1L1266.4 834.1L1268.8 834.1L1271.2 834.1L1273.6 834.1L1276.0 834.1L1278.4 834.1L1280.9 834.1L1283.3 834.1L1285.7 834.1L1288.1 834.1L1290.5 834.1L1292.9 834.1L1295.3 834.1L1297.8 834.1L1300.2 834.1L1302.6 834.1L1305.0 834.1L1307.4 834.1L1309.8 834.1L1312.3 834.1L1314.7 834.1L1317.1 834.1L1319.5 834.1L1321.9 834.1L1324.3 834.1L1326.7 834.1L1329.2 834.1L1331.6 834.1L1334.0 834.1L1336.4 834.1L1338.8 834.1L1341.2 834.1L1343.7 834.1L1353.6 834.1L1363.5 834.1L1373.4 834.1L1383.4 834.1L1393.3 834.1L1403.2 834.1L1413.2 834.1L1423.1 834.1L1433.0 834.1L1443.0 834.1L1452.9 834.1L1462.8 834.1L1472.8 834.1L1482.7 834.1L1492.6 834.1L1502.5 834.1L1512.5 834.1L1522.4 834.1L1532.3 834.1L1542.3 834.1L1552.2 834.1" fill="none" stroke="#D95319" stroke-width="4.61" stroke-dasharray="22.55 8.81 5.94 8.81"/>
<path d="M1150.5 849.1L1152.9 848.9L1155.3 848.7L1157.7 848.5L1160.1 848.3L1162.5 848.0L1164.9 847.7L1167.4 847.2L1169.8 846.7L1172.2 846.1L1174.6 845.5L1177.0 844.8L1179.4 844.1L1181.8 843.4L1184.3 842.7L1186.7 842.1L1189.1 841.6L1191.5 841.1L1193.9 840.7L1196.3 840.3L1198.8 840.0L1201.2 839.7L1203.6 839.4L1206.0 839.1L1208.4 838.9L1210.8 838.6L1213.2 838.4L1215.7 838.1L1218.1 837.9L1220.5 837.7L1222.9 837.5L1225.3 837.3L1227.7 837.1L1230.1 836.9L1232.6 836.7L1235.0 836.5L1237.4 836.3L1239.8 836.1L1242.2 835.9L1244.6 835.7L1247.0 835.6L1249.5 835.4L1251.9 835.3L1254.3 835.2L1256.7 835.0L1259.1 834.9L1261.5 834.8L1264.0 834.8L1266.4 834.7L1268.8 834.6L1271.2 834.6L1273.6 834.5L1276.0 834.5L1278.4 834.4L1280.9 834.4L1283.3 834.4L1285.7 834.4L1288.1 834.3L1290.5 834.3L1292.9 834.3L1295.3 834.3L1297.8 834.3L1300.2 834.3L1302.6 834.3L1305.0 834.2L1307.4 834.2L1309.8 834.2L1312.3 834.2L1314.7 834.2L1317.1 834.2L1319.5 834.2L1321.9 834.2L1324.3 834.2L1326.7 834.1L1329.2 834.1L1331.6 834.1L1334.0 834.1L1336.4 834.1L1338.8 834.1L1341.2 834.1L1343.7 834.1L1353.6 834.1L1363.5 834.1L1373.4 834.1L1383.4 834.1L1393.3 834.1L1403.2 834.1L1413.2 834.1L1423.1 834.1L1433.0 834.1L1443.0 834.1L1452.9 834.1L1462.8 834.1L1472.8 834.1L1482.7 834.1L1492.6 834.1L1502.5 834.1L1512.5 834.1L1522.4 834.1L1532.3 834.1L1542.3 834.1L1552.2 834.1" fill="none" stroke="#EDB120" stroke-width="4.61" stroke-dasharray="22.55 8.81 5.94 8.81"/>
</g>
<g font-family="'Liberation Sans', sans-serif" font-size="42.3" fill="#262626">
<text x="1149.00" y="1243.37" text-anchor="middle" textLength="22.70" lengthAdjust="spacingAndGlyphs">0</text>
<text x="1269.75" y="1243.37" text-anchor="middle" textLength="22.70" lengthAdjust="spacingAndGlyphs">1</text>
<text x="1390.50" y="1243.37" text-anchor="middle" textLength="22.70" lengthAdjust="spacingAndGlyphs">2</text>
<text x="1511.25" y="1243.37" text-anchor="middle" textLength="22.70" lengthAdjust="spacingAndGlyphs">3</text>
<text x="1134.50" y="1182.30" text-anchor="end" textLength="36.30" lengthAdjust="spacingAndGlyphs">-1</text>
<text x="1134.50" y="1093.53" text-anchor="end" textLength="70.34" lengthAdjust="spacingAndGlyphs">-0.5</text>
<text x="1134.50" y="1004.75" text-anchor="end" textLength="22.70" lengthAdjust="spacingAndGlyphs">0</text>
<text x="1134.50" y="915.98" text-anchor="end" textLength="56.75" lengthAdjust="spacingAndGlyphs">0.5</text>
<text x="1134.50" y="827.20" text-anchor="end" textLength="22.70" lengthAdjust="spacingAndGlyphs">1</text>
</g>
</g>
<g id="legend1">
<rect x="1569.60" y="51.00" width="152.40" height="405.50" fill="#fff" stroke="#262626" stroke-width="1.8"/>
<path d="M1581.00 78.00H1665.00" stroke="#0072BD" stroke-width="4.50" fill="none"/>
<text transform="translate(1672.80 86.38) scale(0.3810 0.3697)" font-family="'Liberation Serif', serif" font-size="100" font-style="italic" fill="#000">θ</text>
<text transform="translate(1689.36 92.10) scale(0.2600 0.2591)" font-family="'Liberation Serif', serif" font-size="100" fill="#000">1</text>
<path d="M1581.00 121.90H1665.00" stroke="#D95319" stroke-width="4.50" fill="none"/>
<text transform="translate(1672.80 130.28) scale(0.3810 0.3697)" font-family="'Liberation Serif', serif" font-size="100" font-style="italic" fill="#000">θ</text>
<text transform="translate(1689.97 135.95) scale(0.2725 0.2591)" font-family="'Liberation Serif', serif" font-size="100" fill="#000">2</text>
<path d="M1581.00 165.80H1665.00" stroke="#EDB120" stroke-width="4.50" fill="none"/>
<text transform="translate(1672.80 174.18) scale(0.3810 0.3697)" font-family="'Liberation Serif', serif" font-size="100" font-style="italic" fill="#000">θ</text>
<text transform="translate(1689.53 179.89) scale(0.2732 0.2597)" font-family="'Liberation Serif', serif" font-size="100" fill="#000">3</text>
<path d="M1581.00 209.70H1665.00" stroke="#0072BD" stroke-width="4.50" stroke-dasharray="28.30 16.80" fill="none"/>
<text transform="translate(1673.87 218.13) scale(0.4106 0.3615)" font-family="'Liberation Serif', serif" font-size="100" font-style="italic" fill="#000">ϕ</text>
<text transform="translate(1694.71 223.80) scale(0.2429 0.2591)" font-family="'Liberation Serif', serif" font-size="100" fill="#000">1</text>
<path d="M1581.00 253.60H1665.00" stroke="#D95319" stroke-width="4.50" stroke-dasharray="28.30 16.80" fill="none"/>
<text transform="translate(1673.87 262.03) scale(0.4106 0.3615)" font-family="'Liberation Serif', serif" font-size="100" font-style="italic" fill="#000">ϕ</text>
<text transform="translate(1694.53 267.65) scale(0.2600 0.2591)" font-family="'Liberation Serif', serif" font-size="100" fill="#000">2</text>
<path d="M1581.00 297.50H1665.00" stroke="#EDB120" stroke-width="4.50" stroke-dasharray="28.30 16.80" fill="none"/>
<text transform="translate(1673.87 305.93) scale(0.4106 0.3615)" font-family="'Liberation Serif', serif" font-size="100" font-style="italic" fill="#000">ϕ</text>
<text transform="translate(1694.40 311.59) scale(0.2610 0.2597)" font-family="'Liberation Serif', serif" font-size="100" fill="#000">3</text>
<path d="M1581.00 341.40H1665.00" stroke="#0072BD" stroke-width="4.50" stroke-dasharray="22.00 8.60 5.80 8.60" fill="none"/>
<text transform="translate(1671.99 349.19) scale(0.4017 0.4049)" font-family="'Liberation Serif', serif" font-size="100" font-style="italic" fill="#000">ψ</text>
<text transform="translate(1696.65 355.50) scale(0.2443 0.2591)" font-family="'Liberation Serif', serif" font-size="100" fill="#000">1</text>
<path d="M1581.00 385.30H1665.00" stroke="#D95319" stroke-width="4.50" stroke-dasharray="22.00 8.60 5.80 8.60" fill="none"/>
<text transform="translate(1671.99 393.09) scale(0.4017 0.4049)" font-family="'Liberation Serif', serif" font-size="100" font-style="italic" fill="#000">ψ</text>
<text transform="translate(1696.31 399.35) scale(0.2650 0.2591)" font-family="'Liberation Serif', serif" font-size="100" fill="#000">2</text>
<path d="M1581.00 429.20H1665.00" stroke="#EDB120" stroke-width="4.50" stroke-dasharray="22.00 8.60 5.80 8.60" fill="none"/>
<text transform="translate(1671.99 436.99) scale(0.4017 0.4049)" font-family="'Liberation Serif', serif" font-size="100" font-style="italic" fill="#000">ψ</text>
<text transform="translate(1696.17 443.29) scale(0.2659 0.2597)" font-family="'Liberation Serif', serif" font-size="100" fill="#000">3</text>
</g>
<g id="legend2">
<rect x="1565.90" y="779.00" width="158.10" height="413.30" fill="#fff" stroke="#262626" stroke-width="1.8"/>
<path d="M1578.00 806.30H1665.10" stroke="#0072BD" stroke-width="4.58" fill="none"/>
<text transform="translate(1673.09 814.89) scale(0.3905 0.3790)" font-family="'Liberation Serif', serif" font-size="100" font-style="italic" fill="#000">θ</text>
<text transform="translate(1690.07 820.75) scale(0.2665 0.2656)" font-family="'Liberation Serif', serif" font-size="100" fill="#000">1</text>
<path d="M1578.00 851.16H1665.10" stroke="#D95319" stroke-width="4.58" fill="none"/>
<text transform="translate(1673.09 859.75) scale(0.3905 0.3790)" font-family="'Liberation Serif', serif" font-size="100" font-style="italic" fill="#000">θ</text>
<text transform="translate(1690.70 865.56) scale(0.2793 0.2656)" font-family="'Liberation Serif', serif" font-size="100" fill="#000">2</text>
<path d="M1578.00 896.02H1665.10" stroke="#EDB120" stroke-width="4.58" fill="none"/>
<text transform="translate(1673.09 904.61) scale(0.3905 0.3790)" font-family="'Liberation Serif', serif" font-size="100" font-style="italic" fill="#000">θ</text>
<text transform="translate(1690.25 910.46) scale(0.2800 0.2662)" font-family="'Liberation Serif', serif" font-size="100" fill="#000">3</text>
<path d="M1578.00 940.88H1665.10" stroke="#0072BD" stroke-width="4.58" stroke-dasharray="28.81 17.10" fill="none"/>
<text transform="translate(1674.20 949.52) scale(0.4209 0.3706)" font-family="'Liberation Serif', serif" font-size="100" font-style="italic" fill="#000">ϕ</text>
<text transform="translate(1695.56 955.33) scale(0.2489 0.2656)" font-family="'Liberation Serif', serif" font-size="100" fill="#000">1</text>
<path d="M1578.00 985.74H1665.10" stroke="#D95319" stroke-width="4.58" stroke-dasharray="28.81 17.10" fill="none"/>
<text transform="translate(1674.20 994.38) scale(0.4209 0.3706)" font-family="'Liberation Serif', serif" font-size="100" font-style="italic" fill="#000">ϕ</text>
<text transform="translate(1695.37 1000.14) scale(0.2665 0.2656)" font-family="'Liberation Serif', serif" font-size="100" fill="#000">2</text>
<path d="M1578.00 1030.60H1665.10" stroke="#EDB120" stroke-width="4.58" stroke-dasharray="28.81 17.10" fill="none"/>
<text transform="translate(1674.20 1039.24) scale(0.4209 0.3706)" font-family="'Liberation Serif', serif" font-size="100" font-style="italic" fill="#000">ϕ</text>
<text transform="translate(1695.23 1045.04) scale(0.2675 0.2662)" font-family="'Liberation Serif', serif" font-size="100" fill="#000">3</text>
<path d="M1578.00 1075.46H1665.10" stroke="#0072BD" stroke-width="4.58" stroke-dasharray="22.40 8.75 5.90 8.75" fill="none"/>
<text transform="translate(1672.26 1083.45) scale(0.4118 0.4150)" font-family="'Liberation Serif', serif" font-size="100" font-style="italic" fill="#000">ψ</text>
<text transform="translate(1697.54 1089.91) scale(0.2504 0.2656)" font-family="'Liberation Serif', serif" font-size="100" fill="#000">1</text>
<path d="M1578.00 1120.32H1665.10" stroke="#D95319" stroke-width="4.58" stroke-dasharray="22.40 8.75 5.90 8.75" fill="none"/>
<text transform="translate(1672.26 1128.31) scale(0.4118 0.4150)" font-family="'Liberation Serif', serif" font-size="100" font-style="italic" fill="#000">ψ</text>
<text transform="translate(1697.19 1134.72) scale(0.2716 0.2656)" font-family="'Liberation Serif', serif" font-size="100" fill="#000">2</text>
<path d="M1578.00 1165.18H1665.10" stroke="#EDB120" stroke-width="4.58" stroke-dasharray="22.40 8.75 5.90 8.75" fill="none"/>
<text transform="translate(1672.26 1173.17) scale(0.4118 0.4150)" font-family="'Liberation Serif', serif" font-size="100" font-style="italic" fill="#000">ψ</text>
<text transform="translate(1697.05 1179.62) scale(0.2725 0.2662)" font-family="'Liberation Serif', serif" font-size="100" fill="#000">3</text>
</g>
<g id="titles">
<text transform="translate(265.02 29.50) scale(0.4405 0.4588)" font-family="'Liberation Serif', serif" font-size="100" fill="#000">Up</text>
<text transform="translate(767.36 29.50) scale(0.4467 0.4588)" font-family="'Liberation Serif', serif" font-size="100" fill="#000">Down</text>
<text transform="translate(1240.20 29.50) scale(0.4483 0.4588)" font-family="'Liberation Serif', serif" font-size="100" fill="#000">Up</text>
<text transform="translate(1305.58 32.40) scale(0.4592 0.4464)" font-family="'DejaVu Sans Light', 'DejaVu Sans', 'Liberation Sans', sans-serif" font-size="100" font-weight="200" fill="#000">+</text>
<text transform="translate(1356.57 29.50) scale(0.4429 0.4588)" font-family="'Liberation Serif', serif" font-size="100" fill="#000">Down</text>
<text transform="translate(257.25 759.70) scale(0.4733 0.4672)" font-family="'Liberation Serif', serif" font-size="100" fill="#000">Up</text>
<text transform="translate(762.13 759.50) scale(0.4554 0.4641)" font-family="'Liberation Serif', serif" font-size="100" fill="#000">Down</text>
<text transform="translate(1234.15 759.60) scale(0.4741 0.4641)" font-family="'Liberation Serif', serif" font-size="100" fill="#000">Up</text>
<text transform="translate(1304.13 762.90) scale(0.4544 0.4656)" font-family="'DejaVu Sans Light', 'DejaVu Sans', 'Liberation Sans', sans-serif" font-size="100" font-weight="200" fill="#000">+</text>
<text transform="translate(1355.04 759.60) scale(0.4542 0.4641)" font-family="'Liberation Serif', serif" font-size="100" fill="#000">Down</text>
</g>
<g id="xlabels">
<text transform="translate(282.30 558.83) scale(0.5038 0.4661)" font-family="'Liberation Serif', serif" font-size="100" fill="#262626">t</text>
<text transform="translate(814.25 558.83) scale(0.5038 0.4661)" font-family="'Liberation Serif', serif" font-size="100" fill="#262626">t</text>
<text transform="translate(1343.35 558.83) scale(0.5038 0.4661)" font-family="'Liberation Serif', serif" font-size="100" fill="#262626">t</text>
<text transform="translate(277.36 1292.02) scale(0.5423 0.4800)" font-family="'Liberation Serif', serif" font-size="100" fill="#262626">t</text>
<text transform="translate(809.86 1292.02) scale(0.5423 0.4800)" font-family="'Liberation Serif', serif" font-size="100" fill="#262626">t</text>
<text transform="translate(1342.21 1292.02) scale(0.5423 0.4800)" font-family="'Liberation Serif', serif" font-size="100" fill="#262626">t</text>
</g>
<g id="captions">
<text transform="translate(749.12 653.72) scale(0.4392 0.4736)" font-family="'Liberation Serif', serif" font-size="100" fill="#000">(</text>
<text transform="translate(764.11 653.57) scale(0.5101 0.4271)" font-family="'Liberation Serif', serif" font-size="100" fill="#000">a</text>
<text transform="translate(786.72 653.72) scale(0.4269 0.4736)" font-family="'Liberation Serif', serif" font-size="100" fill="#000">)</text>
<text transform="translate(817.42 653.55) scale(0.3944 0.4479)" font-family="'Liberation Serif', serif" font-size="100" font-style="italic" fill="#000">δ</text>
<text transform="translate(848.79 656.03) scale(0.6215 0.4160)" font-family="'Liberation Serif', serif" font-size="100" fill="#000">=</text>
<text transform="translate(895.88 653.48) scale(0.4490 0.4170)" font-family="'Liberation Serif', serif" font-size="100" font-style="italic" fill="#000">π</text>
<text transform="translate(922.16 658.93) scale(0.5607 0.5236)" font-family="'DejaVu Sans Light', 'DejaVu Sans', 'Liberation Sans', sans-serif" font-size="100" font-weight="200" fill="#000">/</text>
<text transform="translate(941.84 654.05) scale(0.4512 0.4507)" font-family="'Liberation Serif', serif" font-size="100" fill="#000">3</text>
<text transform="translate(737.79 1401.62) scale(0.4137 0.4736)" font-family="'Liberation Serif', serif" font-size="100" fill="#000">(</text>
<text transform="translate(753.70 1400.97) scale(0.4674 0.4284)" font-family="'Liberation Serif', serif" font-size="100" fill="#000">b</text>
<text transform="translate(777.38 1401.62) scale(0.4058 0.4736)" font-family="'Liberation Serif', serif" font-size="100" fill="#000">)</text>
<text transform="translate(807.81 1401.16) scale(0.3956 0.4387)" font-family="'Liberation Serif', serif" font-size="100" font-style="italic" fill="#000">δ</text>
<text transform="translate(839.31 1404.51) scale(0.6172 0.4200)" font-family="'Liberation Serif', serif" font-size="100" fill="#000">=</text>
<text transform="translate(885.20 1401.30) scale(0.4450 0.4379)" font-family="'Liberation Serif', serif" font-size="100" fill="#000">2</text>
<text transform="translate(907.78 1401.58) scale(0.4490 0.4170)" font-family="'Liberation Serif', serif" font-size="100" font-style="italic" fill="#000">π</text>
<text transform="translate(934.16 1407.13) scale(0.5574 0.5236)" font-family="'DejaVu Sans Light', 'DejaVu Sans', 'Liberation Sans', sans-serif" font-size="100" font-weight="200" fill="#000">/</text>
<text transform="translate(954.07 1401.95) scale(0.4463 0.4478)" font-family="'Liberation Serif', serif" font-size="100" fill="#000">3</text>
</g>
</svg>
</body></html>
